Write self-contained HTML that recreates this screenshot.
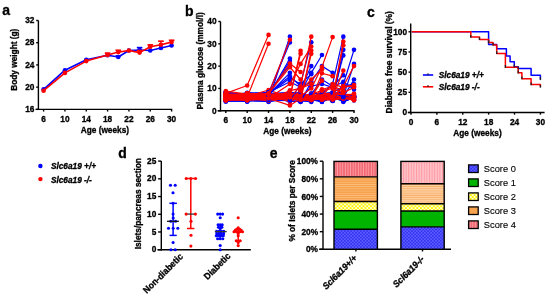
<!DOCTYPE html>
<html><head><meta charset="utf-8"><style>
html,body{margin:0;padding:0;background:#fff;width:550px;height:297px;overflow:hidden}
svg{display:block;font-family:"Liberation Sans", sans-serif;will-change:transform}
</style></head><body>
<svg width="550" height="297" viewBox="0 0 550 297">
<rect width="550" height="297" fill="#fff"/>
<text x="6.2" y="15.5" font-size="14" text-anchor="middle" font-weight="bold" font-style="normal" fill="#000" stroke="#000" stroke-width="0.3" transform="translate(6.2 15.5) rotate(0) scale(1 1.07) translate(-6.2 -15.5)">a</text>
<line x1="38.40" y1="20.50" x2="38.40" y2="110.05" stroke="#000" stroke-width="1.4" stroke-linecap="butt"/>
<line x1="36.20" y1="109.35" x2="38.40" y2="109.35" stroke="#000" stroke-width="1.4" stroke-linecap="butt"/>
<text x="34.4" y="111.94999999999999" font-size="8.3" text-anchor="end" font-weight="bold" font-style="normal" fill="#000" stroke="#000" stroke-width="0.3" transform="translate(34.4 111.94999999999999) rotate(0) scale(1 1.07) translate(-34.4 -111.94999999999999)">16</text>
<line x1="36.20" y1="87.14" x2="38.40" y2="87.14" stroke="#000" stroke-width="1.4" stroke-linecap="butt"/>
<text x="34.4" y="89.73749999999998" font-size="8.3" text-anchor="end" font-weight="bold" font-style="normal" fill="#000" stroke="#000" stroke-width="0.3" transform="translate(34.4 89.73749999999998) rotate(0) scale(1 1.07) translate(-34.4 -89.73749999999998)">20</text>
<line x1="36.20" y1="64.92" x2="38.40" y2="64.92" stroke="#000" stroke-width="1.4" stroke-linecap="butt"/>
<text x="34.4" y="67.52499999999999" font-size="8.3" text-anchor="end" font-weight="bold" font-style="normal" fill="#000" stroke="#000" stroke-width="0.3" transform="translate(34.4 67.52499999999999) rotate(0) scale(1 1.07) translate(-34.4 -67.52499999999999)">24</text>
<line x1="36.20" y1="42.71" x2="38.40" y2="42.71" stroke="#000" stroke-width="1.4" stroke-linecap="butt"/>
<text x="34.4" y="45.31250000000001" font-size="8.3" text-anchor="end" font-weight="bold" font-style="normal" fill="#000" stroke="#000" stroke-width="0.3" transform="translate(34.4 45.31250000000001) rotate(0) scale(1 1.07) translate(-34.4 -45.31250000000001)">28</text>
<line x1="36.20" y1="20.50" x2="38.40" y2="20.50" stroke="#000" stroke-width="1.4" stroke-linecap="butt"/>
<text x="34.4" y="23.1" font-size="8.3" text-anchor="end" font-weight="bold" font-style="normal" fill="#000" stroke="#000" stroke-width="0.3" transform="translate(34.4 23.1) rotate(0) scale(1 1.07) translate(-34.4 -23.1)">32</text>
<line x1="35.50" y1="109.35" x2="172.20" y2="109.35" stroke="#000" stroke-width="1.4" stroke-linecap="butt"/>
<line x1="43.60" y1="109.35" x2="43.60" y2="111.55" stroke="#000" stroke-width="1.4" stroke-linecap="butt"/>
<text x="43.6" y="122.1" font-size="8.3" text-anchor="middle" font-weight="bold" font-style="normal" fill="#000" stroke="#000" stroke-width="0.3" transform="translate(43.6 122.1) rotate(0) scale(1 1.07) translate(-43.6 -122.1)">6</text>
<line x1="64.93" y1="109.35" x2="64.93" y2="111.55" stroke="#000" stroke-width="1.4" stroke-linecap="butt"/>
<text x="64.93333333333334" y="122.1" font-size="8.3" text-anchor="middle" font-weight="bold" font-style="normal" fill="#000" stroke="#000" stroke-width="0.3" transform="translate(64.93333333333334 122.1) rotate(0) scale(1 1.07) translate(-64.93333333333334 -122.1)">10</text>
<line x1="86.27" y1="109.35" x2="86.27" y2="111.55" stroke="#000" stroke-width="1.4" stroke-linecap="butt"/>
<text x="86.26666666666667" y="122.1" font-size="8.3" text-anchor="middle" font-weight="bold" font-style="normal" fill="#000" stroke="#000" stroke-width="0.3" transform="translate(86.26666666666667 122.1) rotate(0) scale(1 1.07) translate(-86.26666666666667 -122.1)">14</text>
<line x1="107.60" y1="109.35" x2="107.60" y2="111.55" stroke="#000" stroke-width="1.4" stroke-linecap="butt"/>
<text x="107.6" y="122.1" font-size="8.3" text-anchor="middle" font-weight="bold" font-style="normal" fill="#000" stroke="#000" stroke-width="0.3" transform="translate(107.6 122.1) rotate(0) scale(1 1.07) translate(-107.6 -122.1)">18</text>
<line x1="128.93" y1="109.35" x2="128.93" y2="111.55" stroke="#000" stroke-width="1.4" stroke-linecap="butt"/>
<text x="128.93333333333334" y="122.1" font-size="8.3" text-anchor="middle" font-weight="bold" font-style="normal" fill="#000" stroke="#000" stroke-width="0.3" transform="translate(128.93333333333334 122.1) rotate(0) scale(1 1.07) translate(-128.93333333333334 -122.1)">22</text>
<line x1="150.27" y1="109.35" x2="150.27" y2="111.55" stroke="#000" stroke-width="1.4" stroke-linecap="butt"/>
<text x="150.26666666666668" y="122.1" font-size="8.3" text-anchor="middle" font-weight="bold" font-style="normal" fill="#000" stroke="#000" stroke-width="0.3" transform="translate(150.26666666666668 122.1) rotate(0) scale(1 1.07) translate(-150.26666666666668 -122.1)">26</text>
<line x1="171.60" y1="109.35" x2="171.60" y2="111.55" stroke="#000" stroke-width="1.4" stroke-linecap="butt"/>
<text x="171.6" y="122.1" font-size="8.3" text-anchor="middle" font-weight="bold" font-style="normal" fill="#000" stroke="#000" stroke-width="0.3" transform="translate(171.6 122.1) rotate(0) scale(1 1.07) translate(-171.6 -122.1)">30</text>
<text x="104.85" y="133.0" font-size="8.3" text-anchor="middle" font-weight="bold" font-style="normal" fill="#000" stroke="#000" stroke-width="0.3" transform="translate(104.85 133.0) rotate(0) scale(1 1.07) translate(-104.85 -133.0)">Age (weeks)</text>
<text x="17.2" y="59.7" font-size="8.3" text-anchor="middle" font-weight="bold" font-style="normal" fill="#000" stroke="#000" stroke-width="0.3" transform="translate(17.2 59.7) rotate(-90) scale(1 1.07) translate(-17.2 -59.7)">Body weight (g)</text>
<polyline points="43.60,89.30 64.93,70.20 86.27,59.70 107.60,55.20 118.27,57.00 128.93,50.50 139.60,50.00 150.27,50.50 160.93,48.00 171.60,45.50" fill="none" stroke="#0000ff" stroke-width="1.6" stroke-linejoin="round"/>
<circle cx="43.60" cy="89.30" r="2.3" fill="#0000ff"/>
<circle cx="64.93" cy="70.20" r="2.3" fill="#0000ff"/>
<circle cx="86.27" cy="59.70" r="2.3" fill="#0000ff"/>
<circle cx="107.60" cy="55.20" r="2.3" fill="#0000ff"/>
<line x1="118.27" y1="56.00" x2="118.27" y2="58.00" stroke="#0000ff" stroke-width="1.3" stroke-linecap="butt"/>
<line x1="115.47" y1="56.00" x2="121.07" y2="56.00" stroke="#0000ff" stroke-width="1.6" stroke-linecap="butt"/>
<circle cx="118.27" cy="57.00" r="2.3" fill="#0000ff"/>
<circle cx="128.93" cy="50.50" r="2.3" fill="#0000ff"/>
<line x1="139.60" y1="47.60" x2="139.60" y2="52.40" stroke="#0000ff" stroke-width="1.3" stroke-linecap="butt"/>
<line x1="136.80" y1="47.60" x2="142.40" y2="47.60" stroke="#0000ff" stroke-width="1.6" stroke-linecap="butt"/>
<circle cx="139.60" cy="50.00" r="2.3" fill="#0000ff"/>
<circle cx="150.27" cy="50.50" r="2.3" fill="#0000ff"/>
<circle cx="160.93" cy="48.00" r="2.3" fill="#0000ff"/>
<circle cx="171.60" cy="45.50" r="2.3" fill="#0000ff"/>
<polyline points="43.60,90.70 64.93,72.90 86.27,61.10 107.60,55.00 118.27,52.10 128.93,50.50 139.60,52.60 150.27,46.80 160.93,44.70 171.60,42.10" fill="none" stroke="#ff0000" stroke-width="1.6" stroke-linejoin="round"/>
<circle cx="43.60" cy="90.70" r="2.3" fill="#ff0000"/>
<circle cx="64.93" cy="72.90" r="2.3" fill="#ff0000"/>
<circle cx="86.27" cy="61.10" r="2.3" fill="#ff0000"/>
<line x1="107.60" y1="53.10" x2="107.60" y2="55.00" stroke="#ff0000" stroke-width="1.3" stroke-linecap="butt"/>
<line x1="104.80" y1="53.10" x2="110.40" y2="53.10" stroke="#ff0000" stroke-width="1.7" stroke-linecap="butt"/>
<circle cx="107.60" cy="55.00" r="2.3" fill="#ff0000"/>
<line x1="118.27" y1="50.30" x2="118.27" y2="52.10" stroke="#ff0000" stroke-width="1.3" stroke-linecap="butt"/>
<line x1="115.47" y1="50.30" x2="121.07" y2="50.30" stroke="#ff0000" stroke-width="1.7" stroke-linecap="butt"/>
<circle cx="118.27" cy="52.10" r="2.3" fill="#ff0000"/>
<circle cx="128.93" cy="50.50" r="2.3" fill="#ff0000"/>
<line x1="139.60" y1="50.60" x2="139.60" y2="52.60" stroke="#ff0000" stroke-width="1.3" stroke-linecap="butt"/>
<line x1="136.80" y1="50.60" x2="142.40" y2="50.60" stroke="#ff0000" stroke-width="1.7" stroke-linecap="butt"/>
<circle cx="139.60" cy="52.60" r="2.3" fill="#ff0000"/>
<line x1="150.27" y1="44.90" x2="150.27" y2="46.80" stroke="#ff0000" stroke-width="1.3" stroke-linecap="butt"/>
<line x1="147.47" y1="44.90" x2="153.07" y2="44.90" stroke="#ff0000" stroke-width="1.7" stroke-linecap="butt"/>
<circle cx="150.27" cy="46.80" r="2.3" fill="#ff0000"/>
<line x1="160.93" y1="41.20" x2="160.93" y2="44.70" stroke="#ff0000" stroke-width="1.3" stroke-linecap="butt"/>
<line x1="158.13" y1="41.20" x2="163.73" y2="41.20" stroke="#ff0000" stroke-width="1.7" stroke-linecap="butt"/>
<circle cx="160.93" cy="44.70" r="2.3" fill="#ff0000"/>
<line x1="171.60" y1="40.30" x2="171.60" y2="42.10" stroke="#ff0000" stroke-width="1.3" stroke-linecap="butt"/>
<line x1="168.80" y1="40.30" x2="174.40" y2="40.30" stroke="#ff0000" stroke-width="1.7" stroke-linecap="butt"/>
<circle cx="171.60" cy="42.10" r="2.3" fill="#ff0000"/>
<text x="189.3" y="15.6" font-size="14" text-anchor="middle" font-weight="bold" font-style="normal" fill="#000" stroke="#000" stroke-width="0.3" transform="translate(189.3 15.6) rotate(0) scale(1 1.07) translate(-189.3 -15.6)">b</text>
<line x1="220.50" y1="21.50" x2="220.50" y2="111.45" stroke="#000" stroke-width="1.4" stroke-linecap="butt"/>
<line x1="218.30" y1="110.75" x2="220.50" y2="110.75" stroke="#000" stroke-width="1.4" stroke-linecap="butt"/>
<text x="216.5" y="113.65" font-size="8.3" text-anchor="end" font-weight="bold" font-style="normal" fill="#000" stroke="#000" stroke-width="0.3" transform="translate(216.5 113.65) rotate(0) scale(1 1.07) translate(-216.5 -113.65)">0</text>
<line x1="218.30" y1="88.44" x2="220.50" y2="88.44" stroke="#000" stroke-width="1.4" stroke-linecap="butt"/>
<text x="216.5" y="91.3375" font-size="8.3" text-anchor="end" font-weight="bold" font-style="normal" fill="#000" stroke="#000" stroke-width="0.3" transform="translate(216.5 91.3375) rotate(0) scale(1 1.07) translate(-216.5 -91.3375)">10</text>
<line x1="218.30" y1="66.12" x2="220.50" y2="66.12" stroke="#000" stroke-width="1.4" stroke-linecap="butt"/>
<text x="216.5" y="69.025" font-size="8.3" text-anchor="end" font-weight="bold" font-style="normal" fill="#000" stroke="#000" stroke-width="0.3" transform="translate(216.5 69.025) rotate(0) scale(1 1.07) translate(-216.5 -69.025)">20</text>
<line x1="218.30" y1="43.81" x2="220.50" y2="43.81" stroke="#000" stroke-width="1.4" stroke-linecap="butt"/>
<text x="216.5" y="46.7125" font-size="8.3" text-anchor="end" font-weight="bold" font-style="normal" fill="#000" stroke="#000" stroke-width="0.3" transform="translate(216.5 46.7125) rotate(0) scale(1 1.07) translate(-216.5 -46.7125)">30</text>
<line x1="218.30" y1="21.50" x2="220.50" y2="21.50" stroke="#000" stroke-width="1.4" stroke-linecap="butt"/>
<text x="216.5" y="24.4" font-size="8.3" text-anchor="end" font-weight="bold" font-style="normal" fill="#000" stroke="#000" stroke-width="0.3" transform="translate(216.5 24.4) rotate(0) scale(1 1.07) translate(-216.5 -24.4)">40</text>
<line x1="217.60" y1="110.75" x2="354.60" y2="110.75" stroke="#000" stroke-width="1.4" stroke-linecap="butt"/>
<line x1="225.80" y1="110.75" x2="225.80" y2="112.95" stroke="#000" stroke-width="1.4" stroke-linecap="butt"/>
<text x="225.8" y="123.0" font-size="8.3" text-anchor="middle" font-weight="bold" font-style="normal" fill="#000" stroke="#000" stroke-width="0.3" transform="translate(225.8 123.0) rotate(0) scale(1 1.07) translate(-225.8 -123.0)">6</text>
<line x1="247.17" y1="110.75" x2="247.17" y2="112.95" stroke="#000" stroke-width="1.4" stroke-linecap="butt"/>
<text x="247.16666666666669" y="123.0" font-size="8.3" text-anchor="middle" font-weight="bold" font-style="normal" fill="#000" stroke="#000" stroke-width="0.3" transform="translate(247.16666666666669 123.0) rotate(0) scale(1 1.07) translate(-247.16666666666669 -123.0)">10</text>
<line x1="268.53" y1="110.75" x2="268.53" y2="112.95" stroke="#000" stroke-width="1.4" stroke-linecap="butt"/>
<text x="268.53333333333336" y="123.0" font-size="8.3" text-anchor="middle" font-weight="bold" font-style="normal" fill="#000" stroke="#000" stroke-width="0.3" transform="translate(268.53333333333336 123.0) rotate(0) scale(1 1.07) translate(-268.53333333333336 -123.0)">14</text>
<line x1="289.90" y1="110.75" x2="289.90" y2="112.95" stroke="#000" stroke-width="1.4" stroke-linecap="butt"/>
<text x="289.9" y="123.0" font-size="8.3" text-anchor="middle" font-weight="bold" font-style="normal" fill="#000" stroke="#000" stroke-width="0.3" transform="translate(289.9 123.0) rotate(0) scale(1 1.07) translate(-289.9 -123.0)">18</text>
<line x1="311.27" y1="110.75" x2="311.27" y2="112.95" stroke="#000" stroke-width="1.4" stroke-linecap="butt"/>
<text x="311.26666666666665" y="123.0" font-size="8.3" text-anchor="middle" font-weight="bold" font-style="normal" fill="#000" stroke="#000" stroke-width="0.3" transform="translate(311.26666666666665 123.0) rotate(0) scale(1 1.07) translate(-311.26666666666665 -123.0)">22</text>
<line x1="332.63" y1="110.75" x2="332.63" y2="112.95" stroke="#000" stroke-width="1.4" stroke-linecap="butt"/>
<text x="332.6333333333333" y="123.0" font-size="8.3" text-anchor="middle" font-weight="bold" font-style="normal" fill="#000" stroke="#000" stroke-width="0.3" transform="translate(332.6333333333333 123.0) rotate(0) scale(1 1.07) translate(-332.6333333333333 -123.0)">26</text>
<line x1="354.00" y1="110.75" x2="354.00" y2="112.95" stroke="#000" stroke-width="1.4" stroke-linecap="butt"/>
<text x="354.0" y="123.0" font-size="8.3" text-anchor="middle" font-weight="bold" font-style="normal" fill="#000" stroke="#000" stroke-width="0.3" transform="translate(354.0 123.0) rotate(0) scale(1 1.07) translate(-354.0 -123.0)">30</text>
<text x="287.4" y="134.2" font-size="8.3" text-anchor="middle" font-weight="bold" font-style="normal" fill="#000" stroke="#000" stroke-width="0.3" transform="translate(287.4 134.2) rotate(0) scale(1 1.07) translate(-287.4 -134.2)">Age (weeks)</text>
<text x="203.0" y="60.85" font-size="8.3" text-anchor="middle" font-weight="bold" font-style="normal" fill="#000" stroke="#000" stroke-width="0.3" transform="translate(203.0 60.85) rotate(-90) scale(1 1.07) translate(-203.0 -60.85)">Plasma glucose (mmol/l)</text>
<polyline points="225.80,96.47 247.17,92.68 268.53,93.57" fill="none" stroke="#0000ff" stroke-width="1.2" stroke-linejoin="round"/>
<circle cx="225.80" cy="96.47" r="2.3" fill="#0000ff"/>
<circle cx="247.17" cy="92.68" r="2.3" fill="#0000ff"/>
<circle cx="268.53" cy="93.57" r="2.3" fill="#0000ff"/>
<polyline points="225.80,93.57 247.17,97.14 268.53,95.58" fill="none" stroke="#0000ff" stroke-width="1.2" stroke-linejoin="round"/>
<circle cx="225.80" cy="93.57" r="2.3" fill="#0000ff"/>
<circle cx="247.17" cy="97.14" r="2.3" fill="#0000ff"/>
<circle cx="268.53" cy="95.58" r="2.3" fill="#0000ff"/>
<polyline points="225.80,92.90 247.17,94.24 268.53,94.46" fill="none" stroke="#0000ff" stroke-width="1.2" stroke-linejoin="round"/>
<circle cx="225.80" cy="92.90" r="2.3" fill="#0000ff"/>
<circle cx="247.17" cy="94.24" r="2.3" fill="#0000ff"/>
<circle cx="268.53" cy="94.46" r="2.3" fill="#0000ff"/>
<polyline points="225.80,97.36 247.17,94.69 268.53,96.47 289.90,98.70 300.58,96.92 311.27,96.47 321.95,94.24 332.63,100.93 343.32,96.47" fill="none" stroke="#0000ff" stroke-width="1.2" stroke-linejoin="round"/>
<circle cx="225.80" cy="97.36" r="2.3" fill="#0000ff"/>
<circle cx="247.17" cy="94.69" r="2.3" fill="#0000ff"/>
<circle cx="268.53" cy="96.47" r="2.3" fill="#0000ff"/>
<circle cx="289.90" cy="98.70" r="2.3" fill="#0000ff"/>
<circle cx="300.58" cy="96.92" r="2.3" fill="#0000ff"/>
<circle cx="311.27" cy="96.47" r="2.3" fill="#0000ff"/>
<circle cx="321.95" cy="94.24" r="2.3" fill="#0000ff"/>
<circle cx="332.63" cy="100.93" r="2.3" fill="#0000ff"/>
<circle cx="343.32" cy="96.47" r="2.3" fill="#0000ff"/>
<polyline points="225.80,97.14 247.17,100.26 268.53,94.02" fill="none" stroke="#0000ff" stroke-width="1.2" stroke-linejoin="round"/>
<circle cx="225.80" cy="97.14" r="2.3" fill="#0000ff"/>
<circle cx="247.17" cy="100.26" r="2.3" fill="#0000ff"/>
<circle cx="268.53" cy="94.02" r="2.3" fill="#0000ff"/>
<polyline points="225.80,100.04 247.17,95.80 268.53,92.90" fill="none" stroke="#0000ff" stroke-width="1.2" stroke-linejoin="round"/>
<circle cx="225.80" cy="100.04" r="2.3" fill="#0000ff"/>
<circle cx="247.17" cy="95.80" r="2.3" fill="#0000ff"/>
<circle cx="268.53" cy="92.90" r="2.3" fill="#0000ff"/>
<polyline points="225.80,99.59 247.17,99.37 268.53,94.24 289.90,96.92 300.58,96.47 311.27,94.46" fill="none" stroke="#0000ff" stroke-width="1.2" stroke-linejoin="round"/>
<circle cx="225.80" cy="99.59" r="2.3" fill="#0000ff"/>
<circle cx="247.17" cy="99.37" r="2.3" fill="#0000ff"/>
<circle cx="268.53" cy="94.24" r="2.3" fill="#0000ff"/>
<circle cx="289.90" cy="96.92" r="2.3" fill="#0000ff"/>
<circle cx="300.58" cy="96.47" r="2.3" fill="#0000ff"/>
<circle cx="311.27" cy="94.46" r="2.3" fill="#0000ff"/>
<polyline points="225.80,93.35 247.17,98.92 268.53,95.13 289.90,96.02 300.58,96.25 311.27,97.36 321.95,93.57 332.63,92.45 343.32,97.36 354.00,95.35" fill="none" stroke="#0000ff" stroke-width="1.2" stroke-linejoin="round"/>
<circle cx="225.80" cy="93.35" r="2.3" fill="#0000ff"/>
<circle cx="247.17" cy="98.92" r="2.3" fill="#0000ff"/>
<circle cx="268.53" cy="95.13" r="2.3" fill="#0000ff"/>
<circle cx="289.90" cy="96.02" r="2.3" fill="#0000ff"/>
<circle cx="300.58" cy="96.25" r="2.3" fill="#0000ff"/>
<circle cx="311.27" cy="97.36" r="2.3" fill="#0000ff"/>
<circle cx="321.95" cy="93.57" r="2.3" fill="#0000ff"/>
<circle cx="332.63" cy="92.45" r="2.3" fill="#0000ff"/>
<circle cx="343.32" cy="97.36" r="2.3" fill="#0000ff"/>
<circle cx="354.00" cy="95.35" r="2.3" fill="#0000ff"/>
<polyline points="225.80,100.71 247.17,100.93 268.53,97.59 289.90,101.38 300.58,89.55" fill="none" stroke="#0000ff" stroke-width="1.2" stroke-linejoin="round"/>
<circle cx="225.80" cy="100.71" r="2.3" fill="#0000ff"/>
<circle cx="247.17" cy="100.93" r="2.3" fill="#0000ff"/>
<circle cx="268.53" cy="97.59" r="2.3" fill="#0000ff"/>
<circle cx="289.90" cy="101.38" r="2.3" fill="#0000ff"/>
<circle cx="300.58" cy="89.55" r="2.3" fill="#0000ff"/>
<polyline points="225.80,95.35 247.17,98.48 268.53,96.47 289.90,100.71 300.58,101.83" fill="none" stroke="#0000ff" stroke-width="1.2" stroke-linejoin="round"/>
<circle cx="225.80" cy="95.35" r="2.3" fill="#0000ff"/>
<circle cx="247.17" cy="98.48" r="2.3" fill="#0000ff"/>
<circle cx="268.53" cy="96.47" r="2.3" fill="#0000ff"/>
<circle cx="289.90" cy="100.71" r="2.3" fill="#0000ff"/>
<circle cx="300.58" cy="101.83" r="2.3" fill="#0000ff"/>
<polyline points="225.80,92.23 247.17,101.60 268.53,93.35 289.90,99.15 300.58,100.71 311.27,100.93 321.95,98.92 332.63,93.79 343.32,100.26 354.00,96.25" fill="none" stroke="#0000ff" stroke-width="1.2" stroke-linejoin="round"/>
<circle cx="225.80" cy="92.23" r="2.3" fill="#0000ff"/>
<circle cx="247.17" cy="101.60" r="2.3" fill="#0000ff"/>
<circle cx="268.53" cy="93.35" r="2.3" fill="#0000ff"/>
<circle cx="289.90" cy="99.15" r="2.3" fill="#0000ff"/>
<circle cx="300.58" cy="100.71" r="2.3" fill="#0000ff"/>
<circle cx="311.27" cy="100.93" r="2.3" fill="#0000ff"/>
<circle cx="321.95" cy="98.92" r="2.3" fill="#0000ff"/>
<circle cx="332.63" cy="93.79" r="2.3" fill="#0000ff"/>
<circle cx="343.32" cy="100.26" r="2.3" fill="#0000ff"/>
<circle cx="354.00" cy="96.25" r="2.3" fill="#0000ff"/>
<polyline points="225.80,100.04 247.17,99.59 268.53,99.15 289.90,99.59 300.58,96.25 311.27,99.37 321.95,97.81 332.63,100.71" fill="none" stroke="#0000ff" stroke-width="1.2" stroke-linejoin="round"/>
<circle cx="225.80" cy="100.04" r="2.3" fill="#0000ff"/>
<circle cx="247.17" cy="99.59" r="2.3" fill="#0000ff"/>
<circle cx="268.53" cy="99.15" r="2.3" fill="#0000ff"/>
<circle cx="289.90" cy="99.59" r="2.3" fill="#0000ff"/>
<circle cx="300.58" cy="96.25" r="2.3" fill="#0000ff"/>
<circle cx="311.27" cy="99.37" r="2.3" fill="#0000ff"/>
<circle cx="321.95" cy="97.81" r="2.3" fill="#0000ff"/>
<circle cx="332.63" cy="100.71" r="2.3" fill="#0000ff"/>
<polyline points="225.80,95.58 247.17,98.25 268.53,96.47 289.90,101.38 300.58,101.38 311.27,100.04 321.95,95.13 332.63,97.81 343.32,98.92 354.00,96.25" fill="none" stroke="#0000ff" stroke-width="1.2" stroke-linejoin="round"/>
<circle cx="225.80" cy="95.58" r="2.3" fill="#0000ff"/>
<circle cx="247.17" cy="98.25" r="2.3" fill="#0000ff"/>
<circle cx="268.53" cy="96.47" r="2.3" fill="#0000ff"/>
<circle cx="289.90" cy="101.38" r="2.3" fill="#0000ff"/>
<circle cx="300.58" cy="101.38" r="2.3" fill="#0000ff"/>
<circle cx="311.27" cy="100.04" r="2.3" fill="#0000ff"/>
<circle cx="321.95" cy="95.13" r="2.3" fill="#0000ff"/>
<circle cx="332.63" cy="97.81" r="2.3" fill="#0000ff"/>
<circle cx="343.32" cy="98.92" r="2.3" fill="#0000ff"/>
<circle cx="354.00" cy="96.25" r="2.3" fill="#0000ff"/>
<polyline points="225.80,97.59 247.17,99.15 268.53,94.02 289.90,95.13 300.58,99.59 311.27,96.25 321.95,96.69 332.63,93.35 343.32,94.69 354.00,99.15" fill="none" stroke="#0000ff" stroke-width="1.2" stroke-linejoin="round"/>
<circle cx="225.80" cy="97.59" r="2.3" fill="#0000ff"/>
<circle cx="247.17" cy="99.15" r="2.3" fill="#0000ff"/>
<circle cx="268.53" cy="94.02" r="2.3" fill="#0000ff"/>
<circle cx="289.90" cy="95.13" r="2.3" fill="#0000ff"/>
<circle cx="300.58" cy="99.59" r="2.3" fill="#0000ff"/>
<circle cx="311.27" cy="96.25" r="2.3" fill="#0000ff"/>
<circle cx="321.95" cy="96.69" r="2.3" fill="#0000ff"/>
<circle cx="332.63" cy="93.35" r="2.3" fill="#0000ff"/>
<circle cx="343.32" cy="94.69" r="2.3" fill="#0000ff"/>
<circle cx="354.00" cy="99.15" r="2.3" fill="#0000ff"/>
<polyline points="225.80,92.90 247.17,94.02 268.53,100.49 289.90,93.79 300.58,92.23" fill="none" stroke="#0000ff" stroke-width="1.2" stroke-linejoin="round"/>
<circle cx="225.80" cy="92.90" r="2.3" fill="#0000ff"/>
<circle cx="247.17" cy="94.02" r="2.3" fill="#0000ff"/>
<circle cx="268.53" cy="100.49" r="2.3" fill="#0000ff"/>
<circle cx="289.90" cy="93.79" r="2.3" fill="#0000ff"/>
<circle cx="300.58" cy="92.23" r="2.3" fill="#0000ff"/>
<polyline points="225.80,92.68 247.17,95.13 268.53,93.35 289.90,92.68 300.58,99.37" fill="none" stroke="#0000ff" stroke-width="1.2" stroke-linejoin="round"/>
<circle cx="225.80" cy="92.68" r="2.3" fill="#0000ff"/>
<circle cx="247.17" cy="95.13" r="2.3" fill="#0000ff"/>
<circle cx="268.53" cy="93.35" r="2.3" fill="#0000ff"/>
<circle cx="289.90" cy="92.68" r="2.3" fill="#0000ff"/>
<circle cx="300.58" cy="99.37" r="2.3" fill="#0000ff"/>
<polyline points="225.80,98.70 247.17,94.02 268.53,92.23" fill="none" stroke="#0000ff" stroke-width="1.2" stroke-linejoin="round"/>
<circle cx="225.80" cy="98.70" r="2.3" fill="#0000ff"/>
<circle cx="247.17" cy="94.02" r="2.3" fill="#0000ff"/>
<circle cx="268.53" cy="92.23" r="2.3" fill="#0000ff"/>
<polyline points="225.80,100.26 247.17,99.82 268.53,99.59 289.90,97.14 300.58,96.02 311.27,99.37 321.95,102.05 332.63,97.81 343.32,98.25 354.00,96.47" fill="none" stroke="#0000ff" stroke-width="1.2" stroke-linejoin="round"/>
<circle cx="225.80" cy="100.26" r="2.3" fill="#0000ff"/>
<circle cx="247.17" cy="99.82" r="2.3" fill="#0000ff"/>
<circle cx="268.53" cy="99.59" r="2.3" fill="#0000ff"/>
<circle cx="289.90" cy="97.14" r="2.3" fill="#0000ff"/>
<circle cx="300.58" cy="96.02" r="2.3" fill="#0000ff"/>
<circle cx="311.27" cy="99.37" r="2.3" fill="#0000ff"/>
<circle cx="321.95" cy="102.05" r="2.3" fill="#0000ff"/>
<circle cx="332.63" cy="97.81" r="2.3" fill="#0000ff"/>
<circle cx="343.32" cy="98.25" r="2.3" fill="#0000ff"/>
<circle cx="354.00" cy="96.47" r="2.3" fill="#0000ff"/>
<polyline points="225.80,99.82 247.17,99.82 268.53,100.04" fill="none" stroke="#0000ff" stroke-width="1.2" stroke-linejoin="round"/>
<circle cx="225.80" cy="99.82" r="2.3" fill="#0000ff"/>
<circle cx="247.17" cy="99.82" r="2.3" fill="#0000ff"/>
<circle cx="268.53" cy="100.04" r="2.3" fill="#0000ff"/>
<polyline points="225.80,92.90 247.17,97.59 268.53,95.80 289.90,96.92 300.58,96.92 311.27,95.13 321.95,97.59 332.63,96.69 343.32,97.14" fill="none" stroke="#0000ff" stroke-width="1.2" stroke-linejoin="round"/>
<circle cx="225.80" cy="92.90" r="2.3" fill="#0000ff"/>
<circle cx="247.17" cy="97.59" r="2.3" fill="#0000ff"/>
<circle cx="268.53" cy="95.80" r="2.3" fill="#0000ff"/>
<circle cx="289.90" cy="96.92" r="2.3" fill="#0000ff"/>
<circle cx="300.58" cy="96.92" r="2.3" fill="#0000ff"/>
<circle cx="311.27" cy="95.13" r="2.3" fill="#0000ff"/>
<circle cx="321.95" cy="97.59" r="2.3" fill="#0000ff"/>
<circle cx="332.63" cy="96.69" r="2.3" fill="#0000ff"/>
<circle cx="343.32" cy="97.14" r="2.3" fill="#0000ff"/>
<polyline points="225.80,98.70 247.17,100.49 268.53,95.58 289.90,101.38 300.58,96.69 311.27,98.48 321.95,101.38 332.63,96.92 343.32,101.60 354.00,97.59" fill="none" stroke="#0000ff" stroke-width="1.2" stroke-linejoin="round"/>
<circle cx="225.80" cy="98.70" r="2.3" fill="#0000ff"/>
<circle cx="247.17" cy="100.49" r="2.3" fill="#0000ff"/>
<circle cx="268.53" cy="95.58" r="2.3" fill="#0000ff"/>
<circle cx="289.90" cy="101.38" r="2.3" fill="#0000ff"/>
<circle cx="300.58" cy="96.69" r="2.3" fill="#0000ff"/>
<circle cx="311.27" cy="98.48" r="2.3" fill="#0000ff"/>
<circle cx="321.95" cy="101.38" r="2.3" fill="#0000ff"/>
<circle cx="332.63" cy="96.92" r="2.3" fill="#0000ff"/>
<circle cx="343.32" cy="101.60" r="2.3" fill="#0000ff"/>
<circle cx="354.00" cy="97.59" r="2.3" fill="#0000ff"/>
<polyline points="225.80,96.69 247.17,96.69 268.53,101.83 289.90,97.59 300.58,100.26 311.27,102.05 321.95,94.02 332.63,100.26" fill="none" stroke="#0000ff" stroke-width="1.2" stroke-linejoin="round"/>
<circle cx="225.80" cy="96.69" r="2.3" fill="#0000ff"/>
<circle cx="247.17" cy="96.69" r="2.3" fill="#0000ff"/>
<circle cx="268.53" cy="101.83" r="2.3" fill="#0000ff"/>
<circle cx="289.90" cy="97.59" r="2.3" fill="#0000ff"/>
<circle cx="300.58" cy="100.26" r="2.3" fill="#0000ff"/>
<circle cx="311.27" cy="102.05" r="2.3" fill="#0000ff"/>
<circle cx="321.95" cy="94.02" r="2.3" fill="#0000ff"/>
<circle cx="332.63" cy="100.26" r="2.3" fill="#0000ff"/>
<polyline points="225.80,100.26 247.17,100.93 268.53,101.38 289.90,94.24 300.58,100.71 311.27,99.59 321.95,98.03 332.63,93.35 343.32,101.16 354.00,97.59" fill="none" stroke="#0000ff" stroke-width="1.2" stroke-linejoin="round"/>
<circle cx="225.80" cy="100.26" r="2.3" fill="#0000ff"/>
<circle cx="247.17" cy="100.93" r="2.3" fill="#0000ff"/>
<circle cx="268.53" cy="101.38" r="2.3" fill="#0000ff"/>
<circle cx="289.90" cy="94.24" r="2.3" fill="#0000ff"/>
<circle cx="300.58" cy="100.71" r="2.3" fill="#0000ff"/>
<circle cx="311.27" cy="99.59" r="2.3" fill="#0000ff"/>
<circle cx="321.95" cy="98.03" r="2.3" fill="#0000ff"/>
<circle cx="332.63" cy="93.35" r="2.3" fill="#0000ff"/>
<circle cx="343.32" cy="101.16" r="2.3" fill="#0000ff"/>
<circle cx="354.00" cy="97.59" r="2.3" fill="#0000ff"/>
<polyline points="225.80,99.59 247.17,101.38 268.53,95.35 289.90,94.24 300.58,93.12 311.27,100.49 321.95,94.91 332.63,92.90" fill="none" stroke="#0000ff" stroke-width="1.2" stroke-linejoin="round"/>
<circle cx="225.80" cy="99.59" r="2.3" fill="#0000ff"/>
<circle cx="247.17" cy="101.38" r="2.3" fill="#0000ff"/>
<circle cx="268.53" cy="95.35" r="2.3" fill="#0000ff"/>
<circle cx="289.90" cy="94.24" r="2.3" fill="#0000ff"/>
<circle cx="300.58" cy="93.12" r="2.3" fill="#0000ff"/>
<circle cx="311.27" cy="100.49" r="2.3" fill="#0000ff"/>
<circle cx="321.95" cy="94.91" r="2.3" fill="#0000ff"/>
<circle cx="332.63" cy="92.90" r="2.3" fill="#0000ff"/>
<polyline points="225.80,92.23 247.17,100.93 268.53,97.81 289.90,94.46 300.58,100.49 311.27,97.14 321.95,101.60 332.63,95.35 343.32,94.46 354.00,96.25" fill="none" stroke="#0000ff" stroke-width="1.2" stroke-linejoin="round"/>
<circle cx="225.80" cy="92.23" r="2.3" fill="#0000ff"/>
<circle cx="247.17" cy="100.93" r="2.3" fill="#0000ff"/>
<circle cx="268.53" cy="97.81" r="2.3" fill="#0000ff"/>
<circle cx="289.90" cy="94.46" r="2.3" fill="#0000ff"/>
<circle cx="300.58" cy="100.49" r="2.3" fill="#0000ff"/>
<circle cx="311.27" cy="97.14" r="2.3" fill="#0000ff"/>
<circle cx="321.95" cy="101.60" r="2.3" fill="#0000ff"/>
<circle cx="332.63" cy="95.35" r="2.3" fill="#0000ff"/>
<circle cx="343.32" cy="94.46" r="2.3" fill="#0000ff"/>
<circle cx="354.00" cy="96.25" r="2.3" fill="#0000ff"/>
<polyline points="225.80,94.02 247.17,101.16 268.53,95.35" fill="none" stroke="#0000ff" stroke-width="1.2" stroke-linejoin="round"/>
<circle cx="225.80" cy="94.02" r="2.3" fill="#0000ff"/>
<circle cx="247.17" cy="101.16" r="2.3" fill="#0000ff"/>
<circle cx="268.53" cy="95.35" r="2.3" fill="#0000ff"/>
<polyline points="225.80,101.38 247.17,101.16 268.53,97.81 289.90,93.79 300.58,100.71 311.27,99.82 321.95,95.80 332.63,92.45 343.32,96.25 354.00,98.03" fill="none" stroke="#0000ff" stroke-width="1.2" stroke-linejoin="round"/>
<circle cx="225.80" cy="101.38" r="2.3" fill="#0000ff"/>
<circle cx="247.17" cy="101.16" r="2.3" fill="#0000ff"/>
<circle cx="268.53" cy="97.81" r="2.3" fill="#0000ff"/>
<circle cx="289.90" cy="93.79" r="2.3" fill="#0000ff"/>
<circle cx="300.58" cy="100.71" r="2.3" fill="#0000ff"/>
<circle cx="311.27" cy="99.82" r="2.3" fill="#0000ff"/>
<circle cx="321.95" cy="95.80" r="2.3" fill="#0000ff"/>
<circle cx="332.63" cy="92.45" r="2.3" fill="#0000ff"/>
<circle cx="343.32" cy="96.25" r="2.3" fill="#0000ff"/>
<circle cx="354.00" cy="98.03" r="2.3" fill="#0000ff"/>
<polyline points="225.80,96.47 247.17,93.12 268.53,93.79 289.90,93.35 300.58,99.15 311.27,97.81 321.95,98.48 332.63,93.12 343.32,92.45 354.00,100.49" fill="none" stroke="#0000ff" stroke-width="1.2" stroke-linejoin="round"/>
<circle cx="225.80" cy="96.47" r="2.3" fill="#0000ff"/>
<circle cx="247.17" cy="93.12" r="2.3" fill="#0000ff"/>
<circle cx="268.53" cy="93.79" r="2.3" fill="#0000ff"/>
<circle cx="289.90" cy="93.35" r="2.3" fill="#0000ff"/>
<circle cx="300.58" cy="99.15" r="2.3" fill="#0000ff"/>
<circle cx="311.27" cy="97.81" r="2.3" fill="#0000ff"/>
<circle cx="321.95" cy="98.48" r="2.3" fill="#0000ff"/>
<circle cx="332.63" cy="93.12" r="2.3" fill="#0000ff"/>
<circle cx="343.32" cy="92.45" r="2.3" fill="#0000ff"/>
<circle cx="354.00" cy="100.49" r="2.3" fill="#0000ff"/>
<polyline points="225.80,92.23 247.17,95.58 268.53,96.69 289.90,92.68 300.58,97.59 311.27,93.35 321.95,93.79" fill="none" stroke="#0000ff" stroke-width="1.2" stroke-linejoin="round"/>
<circle cx="225.80" cy="92.23" r="2.3" fill="#0000ff"/>
<circle cx="247.17" cy="95.58" r="2.3" fill="#0000ff"/>
<circle cx="268.53" cy="96.69" r="2.3" fill="#0000ff"/>
<circle cx="289.90" cy="92.68" r="2.3" fill="#0000ff"/>
<circle cx="300.58" cy="97.59" r="2.3" fill="#0000ff"/>
<circle cx="311.27" cy="93.35" r="2.3" fill="#0000ff"/>
<circle cx="321.95" cy="93.79" r="2.3" fill="#0000ff"/>
<polyline points="225.80,101.38 247.17,94.91 268.53,95.58 289.90,92.01 300.58,93.79 311.27,99.15 321.95,98.25 332.63,95.35 343.32,101.83 354.00,97.36" fill="none" stroke="#0000ff" stroke-width="1.2" stroke-linejoin="round"/>
<circle cx="225.80" cy="101.38" r="2.3" fill="#0000ff"/>
<circle cx="247.17" cy="94.91" r="2.3" fill="#0000ff"/>
<circle cx="268.53" cy="95.58" r="2.3" fill="#0000ff"/>
<circle cx="289.90" cy="92.01" r="2.3" fill="#0000ff"/>
<circle cx="300.58" cy="93.79" r="2.3" fill="#0000ff"/>
<circle cx="311.27" cy="99.15" r="2.3" fill="#0000ff"/>
<circle cx="321.95" cy="98.25" r="2.3" fill="#0000ff"/>
<circle cx="332.63" cy="95.35" r="2.3" fill="#0000ff"/>
<circle cx="343.32" cy="101.83" r="2.3" fill="#0000ff"/>
<circle cx="354.00" cy="97.36" r="2.3" fill="#0000ff"/>
<polyline points="225.80,94.69 247.17,100.26 268.53,100.71 289.90,100.49" fill="none" stroke="#0000ff" stroke-width="1.2" stroke-linejoin="round"/>
<circle cx="225.80" cy="94.69" r="2.3" fill="#0000ff"/>
<circle cx="247.17" cy="100.26" r="2.3" fill="#0000ff"/>
<circle cx="268.53" cy="100.71" r="2.3" fill="#0000ff"/>
<circle cx="289.90" cy="100.49" r="2.3" fill="#0000ff"/>
<polyline points="225.80,98.03 247.17,98.03 268.53,92.45" fill="none" stroke="#0000ff" stroke-width="1.2" stroke-linejoin="round"/>
<circle cx="225.80" cy="98.03" r="2.3" fill="#0000ff"/>
<circle cx="247.17" cy="98.03" r="2.3" fill="#0000ff"/>
<circle cx="268.53" cy="92.45" r="2.3" fill="#0000ff"/>
<polyline points="225.80,92.90 247.17,98.48 268.53,97.36 289.90,96.25 300.58,92.90 311.27,97.81 321.95,92.90 332.63,96.92" fill="none" stroke="#0000ff" stroke-width="1.2" stroke-linejoin="round"/>
<circle cx="225.80" cy="92.90" r="2.3" fill="#0000ff"/>
<circle cx="247.17" cy="98.48" r="2.3" fill="#0000ff"/>
<circle cx="268.53" cy="97.36" r="2.3" fill="#0000ff"/>
<circle cx="289.90" cy="96.25" r="2.3" fill="#0000ff"/>
<circle cx="300.58" cy="92.90" r="2.3" fill="#0000ff"/>
<circle cx="311.27" cy="97.81" r="2.3" fill="#0000ff"/>
<circle cx="321.95" cy="92.90" r="2.3" fill="#0000ff"/>
<circle cx="332.63" cy="96.92" r="2.3" fill="#0000ff"/>
<polyline points="225.80,94.69 247.17,99.82 268.53,94.46 289.90,100.04 300.58,94.24 311.27,97.14" fill="none" stroke="#ff0000" stroke-width="1.2" stroke-linejoin="round"/>
<circle cx="225.80" cy="94.69" r="2.3" fill="#ff0000"/>
<circle cx="247.17" cy="99.82" r="2.3" fill="#ff0000"/>
<circle cx="268.53" cy="94.46" r="2.3" fill="#ff0000"/>
<circle cx="289.90" cy="100.04" r="2.3" fill="#ff0000"/>
<circle cx="300.58" cy="94.24" r="2.3" fill="#ff0000"/>
<circle cx="311.27" cy="97.14" r="2.3" fill="#ff0000"/>
<polyline points="225.80,93.57 247.17,98.92 268.53,93.79" fill="none" stroke="#ff0000" stroke-width="1.2" stroke-linejoin="round"/>
<circle cx="225.80" cy="93.57" r="2.3" fill="#ff0000"/>
<circle cx="247.17" cy="98.92" r="2.3" fill="#ff0000"/>
<circle cx="268.53" cy="93.79" r="2.3" fill="#ff0000"/>
<circle cx="225.80" cy="93.35" r="2.3" fill="#ff0000"/>
<polyline points="225.80,97.81 247.17,99.59 268.53,94.46 289.90,93.35 300.58,97.14 311.27,97.14 321.95,99.82 332.63,99.82 343.32,98.03 354.00,98.70" fill="none" stroke="#ff0000" stroke-width="1.2" stroke-linejoin="round"/>
<circle cx="225.80" cy="97.81" r="2.3" fill="#ff0000"/>
<circle cx="247.17" cy="99.59" r="2.3" fill="#ff0000"/>
<circle cx="268.53" cy="94.46" r="2.3" fill="#ff0000"/>
<circle cx="289.90" cy="93.35" r="2.3" fill="#ff0000"/>
<circle cx="300.58" cy="97.14" r="2.3" fill="#ff0000"/>
<circle cx="311.27" cy="97.14" r="2.3" fill="#ff0000"/>
<circle cx="321.95" cy="99.82" r="2.3" fill="#ff0000"/>
<circle cx="332.63" cy="99.82" r="2.3" fill="#ff0000"/>
<circle cx="343.32" cy="98.03" r="2.3" fill="#ff0000"/>
<circle cx="354.00" cy="98.70" r="2.3" fill="#ff0000"/>
<polyline points="225.80,98.70 247.17,100.26 268.53,94.91 289.90,98.48 300.58,99.59" fill="none" stroke="#ff0000" stroke-width="1.2" stroke-linejoin="round"/>
<circle cx="225.80" cy="98.70" r="2.3" fill="#ff0000"/>
<circle cx="247.17" cy="100.26" r="2.3" fill="#ff0000"/>
<circle cx="268.53" cy="94.91" r="2.3" fill="#ff0000"/>
<circle cx="289.90" cy="98.48" r="2.3" fill="#ff0000"/>
<circle cx="300.58" cy="99.59" r="2.3" fill="#ff0000"/>
<polyline points="225.80,95.80 247.17,99.37 268.53,94.24" fill="none" stroke="#ff0000" stroke-width="1.2" stroke-linejoin="round"/>
<circle cx="225.80" cy="95.80" r="2.3" fill="#ff0000"/>
<circle cx="247.17" cy="99.37" r="2.3" fill="#ff0000"/>
<circle cx="268.53" cy="94.24" r="2.3" fill="#ff0000"/>
<polyline points="225.80,94.69 247.17,93.35 268.53,94.46 289.90,94.69 300.58,94.69 311.27,95.13 321.95,98.92 332.63,96.69 343.32,98.03 354.00,100.26" fill="none" stroke="#ff0000" stroke-width="1.2" stroke-linejoin="round"/>
<circle cx="225.80" cy="94.69" r="2.3" fill="#ff0000"/>
<circle cx="247.17" cy="93.35" r="2.3" fill="#ff0000"/>
<circle cx="268.53" cy="94.46" r="2.3" fill="#ff0000"/>
<circle cx="289.90" cy="94.69" r="2.3" fill="#ff0000"/>
<circle cx="300.58" cy="94.69" r="2.3" fill="#ff0000"/>
<circle cx="311.27" cy="95.13" r="2.3" fill="#ff0000"/>
<circle cx="321.95" cy="98.92" r="2.3" fill="#ff0000"/>
<circle cx="332.63" cy="96.69" r="2.3" fill="#ff0000"/>
<circle cx="343.32" cy="98.03" r="2.3" fill="#ff0000"/>
<circle cx="354.00" cy="100.26" r="2.3" fill="#ff0000"/>
<polyline points="225.80,99.37 247.17,94.02 268.53,96.47 289.90,95.58 300.58,99.82 311.27,100.04" fill="none" stroke="#ff0000" stroke-width="1.2" stroke-linejoin="round"/>
<circle cx="225.80" cy="99.37" r="2.3" fill="#ff0000"/>
<circle cx="247.17" cy="94.02" r="2.3" fill="#ff0000"/>
<circle cx="268.53" cy="96.47" r="2.3" fill="#ff0000"/>
<circle cx="289.90" cy="95.58" r="2.3" fill="#ff0000"/>
<circle cx="300.58" cy="99.82" r="2.3" fill="#ff0000"/>
<circle cx="311.27" cy="100.04" r="2.3" fill="#ff0000"/>
<polyline points="225.80,98.48 247.17,96.25 268.53,90.00 289.90,97.36 300.58,98.48 311.27,96.25 321.95,99.59 332.63,97.36" fill="none" stroke="#ff0000" stroke-width="1.2" stroke-linejoin="round"/>
<circle cx="225.80" cy="98.48" r="2.3" fill="#ff0000"/>
<circle cx="247.17" cy="96.25" r="2.3" fill="#ff0000"/>
<circle cx="268.53" cy="90.00" r="2.3" fill="#ff0000"/>
<circle cx="289.90" cy="97.36" r="2.3" fill="#ff0000"/>
<circle cx="300.58" cy="98.48" r="2.3" fill="#ff0000"/>
<circle cx="311.27" cy="96.25" r="2.3" fill="#ff0000"/>
<circle cx="321.95" cy="99.59" r="2.3" fill="#ff0000"/>
<circle cx="332.63" cy="97.36" r="2.3" fill="#ff0000"/>
<polyline points="225.80,98.03 247.17,99.15 268.53,98.25" fill="none" stroke="#ff0000" stroke-width="1.2" stroke-linejoin="round"/>
<circle cx="225.80" cy="98.03" r="2.3" fill="#ff0000"/>
<circle cx="247.17" cy="99.15" r="2.3" fill="#ff0000"/>
<circle cx="268.53" cy="98.25" r="2.3" fill="#ff0000"/>
<polyline points="225.80,96.92 247.17,95.58 268.53,93.57 289.90,98.03 300.58,94.46 311.27,95.35 321.95,96.02" fill="none" stroke="#ff0000" stroke-width="1.2" stroke-linejoin="round"/>
<circle cx="225.80" cy="96.92" r="2.3" fill="#ff0000"/>
<circle cx="247.17" cy="95.58" r="2.3" fill="#ff0000"/>
<circle cx="268.53" cy="93.57" r="2.3" fill="#ff0000"/>
<circle cx="289.90" cy="98.03" r="2.3" fill="#ff0000"/>
<circle cx="300.58" cy="94.46" r="2.3" fill="#ff0000"/>
<circle cx="311.27" cy="95.35" r="2.3" fill="#ff0000"/>
<circle cx="321.95" cy="96.02" r="2.3" fill="#ff0000"/>
<polyline points="225.80,100.26 247.17,98.03 268.53,96.02 289.90,96.92" fill="none" stroke="#ff0000" stroke-width="1.2" stroke-linejoin="round"/>
<circle cx="225.80" cy="100.26" r="2.3" fill="#ff0000"/>
<circle cx="247.17" cy="98.03" r="2.3" fill="#ff0000"/>
<circle cx="268.53" cy="96.02" r="2.3" fill="#ff0000"/>
<circle cx="289.90" cy="96.92" r="2.3" fill="#ff0000"/>
<polyline points="225.80,91.11 247.17,94.02 268.53,96.25 289.90,101.38 300.58,97.36 311.27,94.02 321.95,90.67" fill="none" stroke="#ff0000" stroke-width="1.2" stroke-linejoin="round"/>
<circle cx="225.80" cy="91.11" r="2.3" fill="#ff0000"/>
<circle cx="247.17" cy="94.02" r="2.3" fill="#ff0000"/>
<circle cx="268.53" cy="96.25" r="2.3" fill="#ff0000"/>
<circle cx="289.90" cy="101.38" r="2.3" fill="#ff0000"/>
<circle cx="300.58" cy="97.36" r="2.3" fill="#ff0000"/>
<circle cx="311.27" cy="94.02" r="2.3" fill="#ff0000"/>
<circle cx="321.95" cy="90.67" r="2.3" fill="#ff0000"/>
<polyline points="225.80,99.59 247.17,100.04 268.53,95.13 289.90,98.70 300.58,99.37 311.27,99.82 321.95,89.55" fill="none" stroke="#ff0000" stroke-width="1.2" stroke-linejoin="round"/>
<circle cx="225.80" cy="99.59" r="2.3" fill="#ff0000"/>
<circle cx="247.17" cy="100.04" r="2.3" fill="#ff0000"/>
<circle cx="268.53" cy="95.13" r="2.3" fill="#ff0000"/>
<circle cx="289.90" cy="98.70" r="2.3" fill="#ff0000"/>
<circle cx="300.58" cy="99.37" r="2.3" fill="#ff0000"/>
<circle cx="311.27" cy="99.82" r="2.3" fill="#ff0000"/>
<circle cx="321.95" cy="89.55" r="2.3" fill="#ff0000"/>
<polyline points="225.80,97.59 247.17,96.92 268.53,93.35" fill="none" stroke="#ff0000" stroke-width="1.2" stroke-linejoin="round"/>
<circle cx="225.80" cy="97.59" r="2.3" fill="#ff0000"/>
<circle cx="247.17" cy="96.92" r="2.3" fill="#ff0000"/>
<circle cx="268.53" cy="93.35" r="2.3" fill="#ff0000"/>
<polyline points="225.80,95.58 247.17,97.36 268.53,100.04 289.90,93.79 300.58,96.02" fill="none" stroke="#ff0000" stroke-width="1.2" stroke-linejoin="round"/>
<circle cx="225.80" cy="95.58" r="2.3" fill="#ff0000"/>
<circle cx="247.17" cy="97.36" r="2.3" fill="#ff0000"/>
<circle cx="268.53" cy="100.04" r="2.3" fill="#ff0000"/>
<circle cx="289.90" cy="93.79" r="2.3" fill="#ff0000"/>
<circle cx="300.58" cy="96.02" r="2.3" fill="#ff0000"/>
<polyline points="225.80,99.15 247.17,98.03 268.53,100.26 289.90,98.70 300.58,100.49 311.27,95.35 321.95,96.47 332.63,99.15" fill="none" stroke="#ff0000" stroke-width="1.2" stroke-linejoin="round"/>
<circle cx="225.80" cy="99.15" r="2.3" fill="#ff0000"/>
<circle cx="247.17" cy="98.03" r="2.3" fill="#ff0000"/>
<circle cx="268.53" cy="100.26" r="2.3" fill="#ff0000"/>
<circle cx="289.90" cy="98.70" r="2.3" fill="#ff0000"/>
<circle cx="300.58" cy="100.49" r="2.3" fill="#ff0000"/>
<circle cx="311.27" cy="95.35" r="2.3" fill="#ff0000"/>
<circle cx="321.95" cy="96.47" r="2.3" fill="#ff0000"/>
<circle cx="332.63" cy="99.15" r="2.3" fill="#ff0000"/>
<polyline points="225.80,97.59 247.17,98.03 268.53,100.04 289.90,90.67" fill="none" stroke="#ff0000" stroke-width="1.2" stroke-linejoin="round"/>
<circle cx="225.80" cy="97.59" r="2.3" fill="#ff0000"/>
<circle cx="247.17" cy="98.03" r="2.3" fill="#ff0000"/>
<circle cx="268.53" cy="100.04" r="2.3" fill="#ff0000"/>
<circle cx="289.90" cy="90.67" r="2.3" fill="#ff0000"/>
<polyline points="225.80,97.14 247.17,93.79 268.53,99.82 289.90,94.69 300.58,97.36 311.27,96.92 321.95,94.46 332.63,97.59" fill="none" stroke="#ff0000" stroke-width="1.2" stroke-linejoin="round"/>
<circle cx="225.80" cy="97.14" r="2.3" fill="#ff0000"/>
<circle cx="247.17" cy="93.79" r="2.3" fill="#ff0000"/>
<circle cx="268.53" cy="99.82" r="2.3" fill="#ff0000"/>
<circle cx="289.90" cy="94.69" r="2.3" fill="#ff0000"/>
<circle cx="300.58" cy="97.36" r="2.3" fill="#ff0000"/>
<circle cx="311.27" cy="96.92" r="2.3" fill="#ff0000"/>
<circle cx="321.95" cy="94.46" r="2.3" fill="#ff0000"/>
<circle cx="332.63" cy="97.59" r="2.3" fill="#ff0000"/>
<polyline points="225.80,100.26 247.17,98.48 268.53,98.70 289.90,95.58 300.58,93.57 311.27,97.36 321.95,93.79 332.63,93.35 343.32,93.57 354.00,97.81" fill="none" stroke="#ff0000" stroke-width="1.2" stroke-linejoin="round"/>
<circle cx="225.80" cy="100.26" r="2.3" fill="#ff0000"/>
<circle cx="247.17" cy="98.48" r="2.3" fill="#ff0000"/>
<circle cx="268.53" cy="98.70" r="2.3" fill="#ff0000"/>
<circle cx="289.90" cy="95.58" r="2.3" fill="#ff0000"/>
<circle cx="300.58" cy="93.57" r="2.3" fill="#ff0000"/>
<circle cx="311.27" cy="97.36" r="2.3" fill="#ff0000"/>
<circle cx="321.95" cy="93.79" r="2.3" fill="#ff0000"/>
<circle cx="332.63" cy="93.35" r="2.3" fill="#ff0000"/>
<circle cx="343.32" cy="93.57" r="2.3" fill="#ff0000"/>
<circle cx="354.00" cy="97.81" r="2.3" fill="#ff0000"/>
<polyline points="225.80,100.04 247.17,93.35 268.53,94.91 289.90,93.57 300.58,99.82" fill="none" stroke="#ff0000" stroke-width="1.2" stroke-linejoin="round"/>
<circle cx="225.80" cy="100.04" r="2.3" fill="#ff0000"/>
<circle cx="247.17" cy="93.35" r="2.3" fill="#ff0000"/>
<circle cx="268.53" cy="94.91" r="2.3" fill="#ff0000"/>
<circle cx="289.90" cy="93.57" r="2.3" fill="#ff0000"/>
<circle cx="300.58" cy="99.82" r="2.3" fill="#ff0000"/>
<polyline points="225.80,97.36 247.17,94.02 268.53,94.69 289.90,98.70 300.58,90.67" fill="none" stroke="#ff0000" stroke-width="1.2" stroke-linejoin="round"/>
<circle cx="225.80" cy="97.36" r="2.3" fill="#ff0000"/>
<circle cx="247.17" cy="94.02" r="2.3" fill="#ff0000"/>
<circle cx="268.53" cy="94.69" r="2.3" fill="#ff0000"/>
<circle cx="289.90" cy="98.70" r="2.3" fill="#ff0000"/>
<circle cx="300.58" cy="90.67" r="2.3" fill="#ff0000"/>
<polyline points="225.80,96.25 247.17,97.36" fill="none" stroke="#ff0000" stroke-width="1.2" stroke-linejoin="round"/>
<circle cx="225.80" cy="96.25" r="2.3" fill="#ff0000"/>
<circle cx="247.17" cy="97.36" r="2.3" fill="#ff0000"/>
<polyline points="225.80,93.79 247.17,95.58 268.53,96.92 289.90,96.02 300.58,95.58 311.27,100.04 321.95,94.02 332.63,94.91 343.32,94.24 354.00,94.69" fill="none" stroke="#ff0000" stroke-width="1.2" stroke-linejoin="round"/>
<circle cx="225.80" cy="93.79" r="2.3" fill="#ff0000"/>
<circle cx="247.17" cy="95.58" r="2.3" fill="#ff0000"/>
<circle cx="268.53" cy="96.92" r="2.3" fill="#ff0000"/>
<circle cx="289.90" cy="96.02" r="2.3" fill="#ff0000"/>
<circle cx="300.58" cy="95.58" r="2.3" fill="#ff0000"/>
<circle cx="311.27" cy="100.04" r="2.3" fill="#ff0000"/>
<circle cx="321.95" cy="94.02" r="2.3" fill="#ff0000"/>
<circle cx="332.63" cy="94.91" r="2.3" fill="#ff0000"/>
<circle cx="343.32" cy="94.24" r="2.3" fill="#ff0000"/>
<circle cx="354.00" cy="94.69" r="2.3" fill="#ff0000"/>
<polyline points="225.80,99.37 247.17,100.04 268.53,99.15 289.90,98.25 300.58,98.25 311.27,95.13 321.95,98.48 332.63,96.92" fill="none" stroke="#ff0000" stroke-width="1.2" stroke-linejoin="round"/>
<circle cx="225.80" cy="99.37" r="2.3" fill="#ff0000"/>
<circle cx="247.17" cy="100.04" r="2.3" fill="#ff0000"/>
<circle cx="268.53" cy="99.15" r="2.3" fill="#ff0000"/>
<circle cx="289.90" cy="98.25" r="2.3" fill="#ff0000"/>
<circle cx="300.58" cy="98.25" r="2.3" fill="#ff0000"/>
<circle cx="311.27" cy="95.13" r="2.3" fill="#ff0000"/>
<circle cx="321.95" cy="98.48" r="2.3" fill="#ff0000"/>
<circle cx="332.63" cy="96.92" r="2.3" fill="#ff0000"/>
<polyline points="225.80,97.59 247.17,97.59 268.53,99.82 289.90,96.02 300.58,100.04 311.27,100.04 321.95,98.92 332.63,99.37 343.32,98.03 354.00,100.04" fill="none" stroke="#ff0000" stroke-width="1.2" stroke-linejoin="round"/>
<circle cx="225.80" cy="97.59" r="2.3" fill="#ff0000"/>
<circle cx="247.17" cy="97.59" r="2.3" fill="#ff0000"/>
<circle cx="268.53" cy="99.82" r="2.3" fill="#ff0000"/>
<circle cx="289.90" cy="96.02" r="2.3" fill="#ff0000"/>
<circle cx="300.58" cy="100.04" r="2.3" fill="#ff0000"/>
<circle cx="311.27" cy="100.04" r="2.3" fill="#ff0000"/>
<circle cx="321.95" cy="98.92" r="2.3" fill="#ff0000"/>
<circle cx="332.63" cy="99.37" r="2.3" fill="#ff0000"/>
<circle cx="343.32" cy="98.03" r="2.3" fill="#ff0000"/>
<circle cx="354.00" cy="100.04" r="2.3" fill="#ff0000"/>
<polyline points="225.80,95.35 247.17,100.26 268.53,96.47 289.90,97.36" fill="none" stroke="#ff0000" stroke-width="1.2" stroke-linejoin="round"/>
<circle cx="225.80" cy="95.35" r="2.3" fill="#ff0000"/>
<circle cx="247.17" cy="100.26" r="2.3" fill="#ff0000"/>
<circle cx="268.53" cy="96.47" r="2.3" fill="#ff0000"/>
<circle cx="289.90" cy="97.36" r="2.3" fill="#ff0000"/>
<polyline points="225.80,95.58 247.17,98.48 268.53,98.48 289.90,105.39 300.58,98.48 311.27,96.92 321.95,99.15 332.63,95.58 343.32,97.81 354.00,96.47" fill="none" stroke="#ff0000" stroke-width="1.2" stroke-linejoin="round"/>
<circle cx="225.80" cy="95.58" r="2.3" fill="#ff0000"/>
<circle cx="247.17" cy="98.48" r="2.3" fill="#ff0000"/>
<circle cx="268.53" cy="98.48" r="2.3" fill="#ff0000"/>
<circle cx="289.90" cy="105.39" r="2.3" fill="#ff0000"/>
<circle cx="300.58" cy="98.48" r="2.3" fill="#ff0000"/>
<circle cx="311.27" cy="96.92" r="2.3" fill="#ff0000"/>
<circle cx="321.95" cy="99.15" r="2.3" fill="#ff0000"/>
<circle cx="332.63" cy="95.58" r="2.3" fill="#ff0000"/>
<circle cx="343.32" cy="97.81" r="2.3" fill="#ff0000"/>
<circle cx="354.00" cy="96.47" r="2.3" fill="#ff0000"/>
<polyline points="225.80,94.46 247.17,99.37 268.53,100.26 289.90,93.79 300.58,96.69 311.27,99.37 321.95,96.69 332.63,100.26 343.32,96.69 354.00,93.57" fill="none" stroke="#ff0000" stroke-width="1.2" stroke-linejoin="round"/>
<circle cx="225.80" cy="94.46" r="2.3" fill="#ff0000"/>
<circle cx="247.17" cy="99.37" r="2.3" fill="#ff0000"/>
<circle cx="268.53" cy="100.26" r="2.3" fill="#ff0000"/>
<circle cx="289.90" cy="93.79" r="2.3" fill="#ff0000"/>
<circle cx="300.58" cy="96.69" r="2.3" fill="#ff0000"/>
<circle cx="311.27" cy="99.37" r="2.3" fill="#ff0000"/>
<circle cx="321.95" cy="96.69" r="2.3" fill="#ff0000"/>
<circle cx="332.63" cy="100.26" r="2.3" fill="#ff0000"/>
<circle cx="343.32" cy="96.69" r="2.3" fill="#ff0000"/>
<circle cx="354.00" cy="93.57" r="2.3" fill="#ff0000"/>
<polyline points="225.80,100.49 247.17,99.37 268.53,99.82 289.90,97.81 300.58,100.26 311.27,94.24 321.95,96.02 332.63,99.37 343.32,98.70 354.00,98.03" fill="none" stroke="#ff0000" stroke-width="1.2" stroke-linejoin="round"/>
<circle cx="225.80" cy="100.49" r="2.3" fill="#ff0000"/>
<circle cx="247.17" cy="99.37" r="2.3" fill="#ff0000"/>
<circle cx="268.53" cy="99.82" r="2.3" fill="#ff0000"/>
<circle cx="289.90" cy="97.81" r="2.3" fill="#ff0000"/>
<circle cx="300.58" cy="100.26" r="2.3" fill="#ff0000"/>
<circle cx="311.27" cy="94.24" r="2.3" fill="#ff0000"/>
<circle cx="321.95" cy="96.02" r="2.3" fill="#ff0000"/>
<circle cx="332.63" cy="99.37" r="2.3" fill="#ff0000"/>
<circle cx="343.32" cy="98.70" r="2.3" fill="#ff0000"/>
<circle cx="354.00" cy="98.03" r="2.3" fill="#ff0000"/>
<polyline points="225.80,98.03 247.17,96.47 268.53,93.79 289.90,98.48 300.58,99.59 311.27,96.69 321.95,98.70 332.63,99.59" fill="none" stroke="#ff0000" stroke-width="1.2" stroke-linejoin="round"/>
<circle cx="225.80" cy="98.03" r="2.3" fill="#ff0000"/>
<circle cx="247.17" cy="96.47" r="2.3" fill="#ff0000"/>
<circle cx="268.53" cy="93.79" r="2.3" fill="#ff0000"/>
<circle cx="289.90" cy="98.48" r="2.3" fill="#ff0000"/>
<circle cx="300.58" cy="99.59" r="2.3" fill="#ff0000"/>
<circle cx="311.27" cy="96.69" r="2.3" fill="#ff0000"/>
<circle cx="321.95" cy="98.70" r="2.3" fill="#ff0000"/>
<circle cx="332.63" cy="99.59" r="2.3" fill="#ff0000"/>
<polyline points="225.80,94.46 247.17,99.37 268.53,97.36 289.90,96.92" fill="none" stroke="#ff0000" stroke-width="1.2" stroke-linejoin="round"/>
<circle cx="225.80" cy="94.46" r="2.3" fill="#ff0000"/>
<circle cx="247.17" cy="99.37" r="2.3" fill="#ff0000"/>
<circle cx="268.53" cy="97.36" r="2.3" fill="#ff0000"/>
<circle cx="289.90" cy="96.92" r="2.3" fill="#ff0000"/>
<polyline points="225.80,94.24 247.17,95.58 268.53,98.70 289.90,97.81 300.58,99.37 311.27,94.91 321.95,96.69 332.63,94.91 343.32,98.03 354.00,98.92" fill="none" stroke="#ff0000" stroke-width="1.2" stroke-linejoin="round"/>
<circle cx="225.80" cy="94.24" r="2.3" fill="#ff0000"/>
<circle cx="247.17" cy="95.58" r="2.3" fill="#ff0000"/>
<circle cx="268.53" cy="98.70" r="2.3" fill="#ff0000"/>
<circle cx="289.90" cy="97.81" r="2.3" fill="#ff0000"/>
<circle cx="300.58" cy="99.37" r="2.3" fill="#ff0000"/>
<circle cx="311.27" cy="94.91" r="2.3" fill="#ff0000"/>
<circle cx="321.95" cy="96.69" r="2.3" fill="#ff0000"/>
<circle cx="332.63" cy="94.91" r="2.3" fill="#ff0000"/>
<circle cx="343.32" cy="98.03" r="2.3" fill="#ff0000"/>
<circle cx="354.00" cy="98.92" r="2.3" fill="#ff0000"/>
<polyline points="300.58,92.23 311.27,72.82 321.95,54.97" fill="none" stroke="#0000ff" stroke-width="1.2" stroke-linejoin="round"/>
<circle cx="300.58" cy="92.23" r="2.3" fill="#0000ff"/>
<circle cx="311.27" cy="72.82" r="2.3" fill="#0000ff"/>
<circle cx="321.95" cy="54.97" r="2.3" fill="#0000ff"/>
<polyline points="332.63,96.92 343.32,55.41" fill="none" stroke="#0000ff" stroke-width="1.2" stroke-linejoin="round"/>
<circle cx="332.63" cy="96.92" r="2.3" fill="#0000ff"/>
<circle cx="343.32" cy="55.41" r="2.3" fill="#0000ff"/>
<polyline points="268.53,95.35 289.90,60.99" fill="none" stroke="#0000ff" stroke-width="1.2" stroke-linejoin="round"/>
<circle cx="268.53" cy="95.35" r="2.3" fill="#0000ff"/>
<circle cx="289.90" cy="60.99" r="2.3" fill="#0000ff"/>
<polyline points="332.63,100.71 343.32,49.84" fill="none" stroke="#0000ff" stroke-width="1.2" stroke-linejoin="round"/>
<circle cx="332.63" cy="100.71" r="2.3" fill="#0000ff"/>
<circle cx="343.32" cy="49.84" r="2.3" fill="#0000ff"/>
<polyline points="268.53,94.46 289.90,72.82" fill="none" stroke="#0000ff" stroke-width="1.2" stroke-linejoin="round"/>
<circle cx="268.53" cy="94.46" r="2.3" fill="#0000ff"/>
<circle cx="289.90" cy="72.82" r="2.3" fill="#0000ff"/>
<polyline points="289.90,100.49 300.58,83.97 311.27,42.25" fill="none" stroke="#0000ff" stroke-width="1.2" stroke-linejoin="round"/>
<circle cx="289.90" cy="100.49" r="2.3" fill="#0000ff"/>
<circle cx="300.58" cy="83.97" r="2.3" fill="#0000ff"/>
<circle cx="311.27" cy="42.25" r="2.3" fill="#0000ff"/>
<polyline points="321.95,93.79 332.63,83.97 343.32,36.67" fill="none" stroke="#0000ff" stroke-width="1.2" stroke-linejoin="round"/>
<circle cx="321.95" cy="93.79" r="2.3" fill="#0000ff"/>
<circle cx="332.63" cy="83.97" r="2.3" fill="#0000ff"/>
<circle cx="343.32" cy="36.67" r="2.3" fill="#0000ff"/>
<polyline points="332.63,100.26 343.32,84.20 354.00,49.84" fill="none" stroke="#0000ff" stroke-width="1.2" stroke-linejoin="round"/>
<circle cx="332.63" cy="100.26" r="2.3" fill="#0000ff"/>
<circle cx="343.32" cy="84.20" r="2.3" fill="#0000ff"/>
<circle cx="354.00" cy="49.84" r="2.3" fill="#0000ff"/>
<polyline points="343.32,97.14 354.00,79.51" fill="none" stroke="#0000ff" stroke-width="1.2" stroke-linejoin="round"/>
<circle cx="343.32" cy="97.14" r="2.3" fill="#0000ff"/>
<circle cx="354.00" cy="79.51" r="2.3" fill="#0000ff"/>
<polyline points="268.53,92.23 289.90,65.01" fill="none" stroke="#0000ff" stroke-width="1.2" stroke-linejoin="round"/>
<circle cx="268.53" cy="92.23" r="2.3" fill="#0000ff"/>
<circle cx="289.90" cy="65.01" r="2.3" fill="#0000ff"/>
<polyline points="268.53,92.90 289.90,42.47" fill="none" stroke="#0000ff" stroke-width="1.2" stroke-linejoin="round"/>
<circle cx="268.53" cy="92.90" r="2.3" fill="#0000ff"/>
<circle cx="289.90" cy="42.47" r="2.3" fill="#0000ff"/>
<polyline points="268.53,94.02 289.90,78.17 300.58,83.97 311.27,74.16" fill="none" stroke="#0000ff" stroke-width="1.2" stroke-linejoin="round"/>
<circle cx="268.53" cy="94.02" r="2.3" fill="#0000ff"/>
<circle cx="289.90" cy="78.17" r="2.3" fill="#0000ff"/>
<circle cx="300.58" cy="83.97" r="2.3" fill="#0000ff"/>
<circle cx="311.27" cy="74.16" r="2.3" fill="#0000ff"/>
<polyline points="300.58,101.83 311.27,81.74 321.95,66.12 332.63,72.82" fill="none" stroke="#0000ff" stroke-width="1.2" stroke-linejoin="round"/>
<circle cx="300.58" cy="101.83" r="2.3" fill="#0000ff"/>
<circle cx="311.27" cy="81.74" r="2.3" fill="#0000ff"/>
<circle cx="321.95" cy="66.12" r="2.3" fill="#0000ff"/>
<circle cx="332.63" cy="72.82" r="2.3" fill="#0000ff"/>
<polyline points="300.58,89.55 311.27,66.12" fill="none" stroke="#0000ff" stroke-width="1.2" stroke-linejoin="round"/>
<circle cx="300.58" cy="89.55" r="2.3" fill="#0000ff"/>
<circle cx="311.27" cy="66.12" r="2.3" fill="#0000ff"/>
<polyline points="343.32,96.47 354.00,63.89" fill="none" stroke="#0000ff" stroke-width="1.2" stroke-linejoin="round"/>
<circle cx="343.32" cy="96.47" r="2.3" fill="#0000ff"/>
<circle cx="354.00" cy="63.89" r="2.3" fill="#0000ff"/>
<polyline points="268.53,93.57 289.90,76.17 300.58,86.21 311.27,82.86" fill="none" stroke="#0000ff" stroke-width="1.2" stroke-linejoin="round"/>
<circle cx="268.53" cy="93.57" r="2.3" fill="#0000ff"/>
<circle cx="289.90" cy="76.17" r="2.3" fill="#0000ff"/>
<circle cx="300.58" cy="86.21" r="2.3" fill="#0000ff"/>
<circle cx="311.27" cy="82.86" r="2.3" fill="#0000ff"/>
<polyline points="268.53,95.58 289.90,58.54" fill="none" stroke="#0000ff" stroke-width="1.2" stroke-linejoin="round"/>
<circle cx="268.53" cy="95.58" r="2.3" fill="#0000ff"/>
<circle cx="289.90" cy="58.54" r="2.3" fill="#0000ff"/>
<polyline points="268.53,92.45 289.90,81.74 300.58,87.32" fill="none" stroke="#0000ff" stroke-width="1.2" stroke-linejoin="round"/>
<circle cx="268.53" cy="92.45" r="2.3" fill="#0000ff"/>
<circle cx="289.90" cy="81.74" r="2.3" fill="#0000ff"/>
<circle cx="300.58" cy="87.32" r="2.3" fill="#0000ff"/>
<polyline points="268.53,100.04 289.90,36.67" fill="none" stroke="#0000ff" stroke-width="1.2" stroke-linejoin="round"/>
<circle cx="268.53" cy="100.04" r="2.3" fill="#0000ff"/>
<circle cx="289.90" cy="36.67" r="2.3" fill="#0000ff"/>
<polyline points="300.58,99.37 311.27,86.21 321.95,83.97 332.63,87.32 343.32,81.74 354.00,89.55" fill="none" stroke="#0000ff" stroke-width="1.2" stroke-linejoin="round"/>
<circle cx="300.58" cy="99.37" r="2.3" fill="#0000ff"/>
<circle cx="311.27" cy="86.21" r="2.3" fill="#0000ff"/>
<circle cx="321.95" cy="83.97" r="2.3" fill="#0000ff"/>
<circle cx="332.63" cy="87.32" r="2.3" fill="#0000ff"/>
<circle cx="343.32" cy="81.74" r="2.3" fill="#0000ff"/>
<circle cx="354.00" cy="89.55" r="2.3" fill="#0000ff"/>
<polyline points="332.63,92.90 343.32,86.21 354.00,83.97" fill="none" stroke="#0000ff" stroke-width="1.2" stroke-linejoin="round"/>
<circle cx="332.63" cy="92.90" r="2.3" fill="#0000ff"/>
<circle cx="343.32" cy="86.21" r="2.3" fill="#0000ff"/>
<circle cx="354.00" cy="83.97" r="2.3" fill="#0000ff"/>
<polyline points="311.27,94.46 321.95,79.51 332.63,86.21 343.32,75.27" fill="none" stroke="#0000ff" stroke-width="1.2" stroke-linejoin="round"/>
<circle cx="311.27" cy="94.46" r="2.3" fill="#0000ff"/>
<circle cx="321.95" cy="79.51" r="2.3" fill="#0000ff"/>
<circle cx="332.63" cy="86.21" r="2.3" fill="#0000ff"/>
<circle cx="343.32" cy="75.27" r="2.3" fill="#0000ff"/>
<polyline points="300.58,99.82 311.27,50.51" fill="none" stroke="#ff0000" stroke-width="1.2" stroke-linejoin="round"/>
<circle cx="300.58" cy="99.82" r="2.3" fill="#ff0000"/>
<circle cx="311.27" cy="50.51" r="2.3" fill="#ff0000"/>
<polyline points="300.58,90.67 311.27,79.51 321.95,69.25" fill="none" stroke="#ff0000" stroke-width="1.2" stroke-linejoin="round"/>
<circle cx="300.58" cy="90.67" r="2.3" fill="#ff0000"/>
<circle cx="311.27" cy="79.51" r="2.3" fill="#ff0000"/>
<circle cx="321.95" cy="69.25" r="2.3" fill="#ff0000"/>
<polyline points="332.63,99.15 343.32,86.21 354.00,66.12" fill="none" stroke="#ff0000" stroke-width="1.2" stroke-linejoin="round"/>
<circle cx="332.63" cy="99.15" r="2.3" fill="#ff0000"/>
<circle cx="343.32" cy="86.21" r="2.3" fill="#ff0000"/>
<circle cx="354.00" cy="66.12" r="2.3" fill="#ff0000"/>
<polyline points="268.53,93.79 289.90,63.45 300.58,71.93" fill="none" stroke="#ff0000" stroke-width="1.2" stroke-linejoin="round"/>
<circle cx="268.53" cy="93.79" r="2.3" fill="#ff0000"/>
<circle cx="289.90" cy="63.45" r="2.3" fill="#ff0000"/>
<circle cx="300.58" cy="71.93" r="2.3" fill="#ff0000"/>
<polyline points="321.95,89.55 332.63,86.21 343.32,90.67" fill="none" stroke="#ff0000" stroke-width="1.2" stroke-linejoin="round"/>
<circle cx="321.95" cy="89.55" r="2.3" fill="#ff0000"/>
<circle cx="332.63" cy="86.21" r="2.3" fill="#ff0000"/>
<circle cx="343.32" cy="90.67" r="2.3" fill="#ff0000"/>
<polyline points="268.53,93.35 289.90,67.24 300.58,79.51" fill="none" stroke="#ff0000" stroke-width="1.2" stroke-linejoin="round"/>
<circle cx="268.53" cy="93.35" r="2.3" fill="#ff0000"/>
<circle cx="289.90" cy="67.24" r="2.3" fill="#ff0000"/>
<circle cx="300.58" cy="79.51" r="2.3" fill="#ff0000"/>
<polyline points="268.53,98.25 289.90,83.97 300.58,63.89 311.27,46.49" fill="none" stroke="#ff0000" stroke-width="1.2" stroke-linejoin="round"/>
<circle cx="268.53" cy="98.25" r="2.3" fill="#ff0000"/>
<circle cx="289.90" cy="83.97" r="2.3" fill="#ff0000"/>
<circle cx="300.58" cy="63.89" r="2.3" fill="#ff0000"/>
<circle cx="311.27" cy="46.49" r="2.3" fill="#ff0000"/>
<polyline points="289.90,96.92 300.58,53.63" fill="none" stroke="#ff0000" stroke-width="1.2" stroke-linejoin="round"/>
<circle cx="289.90" cy="96.92" r="2.3" fill="#ff0000"/>
<circle cx="300.58" cy="53.63" r="2.3" fill="#ff0000"/>
<polyline points="289.90,97.36 300.58,86.21 311.27,36.67" fill="none" stroke="#ff0000" stroke-width="1.2" stroke-linejoin="round"/>
<circle cx="289.90" cy="97.36" r="2.3" fill="#ff0000"/>
<circle cx="300.58" cy="86.21" r="2.3" fill="#ff0000"/>
<circle cx="311.27" cy="36.67" r="2.3" fill="#ff0000"/>
<polyline points="289.90,96.92 300.58,50.73" fill="none" stroke="#ff0000" stroke-width="1.2" stroke-linejoin="round"/>
<circle cx="289.90" cy="96.92" r="2.3" fill="#ff0000"/>
<circle cx="300.58" cy="50.73" r="2.3" fill="#ff0000"/>
<polyline points="321.95,90.67 332.63,88.44 343.32,92.90 354.00,87.32" fill="none" stroke="#ff0000" stroke-width="1.2" stroke-linejoin="round"/>
<circle cx="321.95" cy="90.67" r="2.3" fill="#ff0000"/>
<circle cx="332.63" cy="88.44" r="2.3" fill="#ff0000"/>
<circle cx="343.32" cy="92.90" r="2.3" fill="#ff0000"/>
<circle cx="354.00" cy="87.32" r="2.3" fill="#ff0000"/>
<polyline points="289.90,90.67 300.58,88.44 311.27,83.97" fill="none" stroke="#ff0000" stroke-width="1.2" stroke-linejoin="round"/>
<circle cx="289.90" cy="90.67" r="2.3" fill="#ff0000"/>
<circle cx="300.58" cy="88.44" r="2.3" fill="#ff0000"/>
<circle cx="311.27" cy="83.97" r="2.3" fill="#ff0000"/>
<polyline points="247.17,97.36 268.53,43.81" fill="none" stroke="#ff0000" stroke-width="1.2" stroke-linejoin="round"/>
<circle cx="247.17" cy="97.36" r="2.3" fill="#ff0000"/>
<circle cx="268.53" cy="43.81" r="2.3" fill="#ff0000"/>
<polyline points="300.58,99.59 311.27,53.85" fill="none" stroke="#ff0000" stroke-width="1.2" stroke-linejoin="round"/>
<circle cx="300.58" cy="99.59" r="2.3" fill="#ff0000"/>
<circle cx="311.27" cy="53.85" r="2.3" fill="#ff0000"/>
<polyline points="268.53,94.24 289.90,39.80" fill="none" stroke="#ff0000" stroke-width="1.2" stroke-linejoin="round"/>
<circle cx="268.53" cy="94.24" r="2.3" fill="#ff0000"/>
<circle cx="289.90" cy="39.80" r="2.3" fill="#ff0000"/>
<polyline points="300.58,96.02 311.27,88.44 321.95,67.02 332.63,37.12" fill="none" stroke="#ff0000" stroke-width="1.2" stroke-linejoin="round"/>
<circle cx="300.58" cy="96.02" r="2.3" fill="#ff0000"/>
<circle cx="311.27" cy="88.44" r="2.3" fill="#ff0000"/>
<circle cx="321.95" cy="67.02" r="2.3" fill="#ff0000"/>
<circle cx="332.63" cy="37.12" r="2.3" fill="#ff0000"/>
<polyline points="332.63,96.92 343.32,45.37" fill="none" stroke="#ff0000" stroke-width="1.2" stroke-linejoin="round"/>
<circle cx="332.63" cy="96.92" r="2.3" fill="#ff0000"/>
<circle cx="343.32" cy="45.37" r="2.3" fill="#ff0000"/>
<polyline points="332.63,97.59 343.32,70.59" fill="none" stroke="#ff0000" stroke-width="1.2" stroke-linejoin="round"/>
<circle cx="332.63" cy="97.59" r="2.3" fill="#ff0000"/>
<circle cx="343.32" cy="70.59" r="2.3" fill="#ff0000"/>
<polyline points="321.95,96.02 332.63,83.97 343.32,87.32 354.00,85.09" fill="none" stroke="#ff0000" stroke-width="1.2" stroke-linejoin="round"/>
<circle cx="321.95" cy="96.02" r="2.3" fill="#ff0000"/>
<circle cx="332.63" cy="83.97" r="2.3" fill="#ff0000"/>
<circle cx="343.32" cy="87.32" r="2.3" fill="#ff0000"/>
<circle cx="354.00" cy="85.09" r="2.3" fill="#ff0000"/>
<polyline points="332.63,99.59 343.32,41.58" fill="none" stroke="#ff0000" stroke-width="1.2" stroke-linejoin="round"/>
<circle cx="332.63" cy="99.59" r="2.3" fill="#ff0000"/>
<circle cx="343.32" cy="41.58" r="2.3" fill="#ff0000"/>
<polyline points="311.27,97.14 321.95,80.63" fill="none" stroke="#ff0000" stroke-width="1.2" stroke-linejoin="round"/>
<circle cx="311.27" cy="97.14" r="2.3" fill="#ff0000"/>
<circle cx="321.95" cy="80.63" r="2.3" fill="#ff0000"/>
<polyline points="332.63,97.36 343.32,86.21 354.00,86.21" fill="none" stroke="#ff0000" stroke-width="1.2" stroke-linejoin="round"/>
<circle cx="332.63" cy="97.36" r="2.3" fill="#ff0000"/>
<circle cx="343.32" cy="86.21" r="2.3" fill="#ff0000"/>
<circle cx="354.00" cy="86.21" r="2.3" fill="#ff0000"/>
<polyline points="311.27,100.04 321.95,73.27 332.63,76.17" fill="none" stroke="#ff0000" stroke-width="1.2" stroke-linejoin="round"/>
<circle cx="311.27" cy="100.04" r="2.3" fill="#ff0000"/>
<circle cx="321.95" cy="73.27" r="2.3" fill="#ff0000"/>
<circle cx="332.63" cy="76.17" r="2.3" fill="#ff0000"/>
<polyline points="225.80,93.35 247.17,85.54 268.53,34.89" fill="none" stroke="#ff0000" stroke-width="1.2" stroke-linejoin="round"/>
<circle cx="225.80" cy="93.35" r="2.3" fill="#ff0000"/>
<circle cx="247.17" cy="85.54" r="2.3" fill="#ff0000"/>
<circle cx="268.53" cy="34.89" r="2.3" fill="#ff0000"/>
<text x="370.9" y="16.8" font-size="14" text-anchor="middle" font-weight="bold" font-style="normal" fill="#000" stroke="#000" stroke-width="0.3" transform="translate(370.9 16.8) rotate(0) scale(1 1.07) translate(-370.9 -16.8)">c</text>
<line x1="410.70" y1="23.60" x2="410.70" y2="113.15" stroke="#000" stroke-width="1.4" stroke-linecap="butt"/>
<line x1="408.50" y1="112.45" x2="410.70" y2="112.45" stroke="#000" stroke-width="1.4" stroke-linecap="butt"/>
<text x="407.0" y="115.45" font-size="8.3" text-anchor="end" font-weight="bold" font-style="normal" fill="#000" stroke="#000" stroke-width="0.3" transform="translate(407.0 115.45) rotate(0) scale(1 1.07) translate(-407.0 -115.45)">0</text>
<line x1="408.50" y1="92.29" x2="410.70" y2="92.29" stroke="#000" stroke-width="1.4" stroke-linecap="butt"/>
<text x="407.0" y="95.2875" font-size="8.3" text-anchor="end" font-weight="bold" font-style="normal" fill="#000" stroke="#000" stroke-width="0.3" transform="translate(407.0 95.2875) rotate(0) scale(1 1.07) translate(-407.0 -95.2875)">25</text>
<line x1="408.50" y1="72.12" x2="410.70" y2="72.12" stroke="#000" stroke-width="1.4" stroke-linecap="butt"/>
<text x="407.0" y="75.125" font-size="8.3" text-anchor="end" font-weight="bold" font-style="normal" fill="#000" stroke="#000" stroke-width="0.3" transform="translate(407.0 75.125) rotate(0) scale(1 1.07) translate(-407.0 -75.125)">50</text>
<line x1="408.50" y1="51.96" x2="410.70" y2="51.96" stroke="#000" stroke-width="1.4" stroke-linecap="butt"/>
<text x="407.0" y="54.962500000000006" font-size="8.3" text-anchor="end" font-weight="bold" font-style="normal" fill="#000" stroke="#000" stroke-width="0.3" transform="translate(407.0 54.962500000000006) rotate(0) scale(1 1.07) translate(-407.0 -54.962500000000006)">75</text>
<line x1="408.50" y1="31.80" x2="410.70" y2="31.80" stroke="#000" stroke-width="1.4" stroke-linecap="butt"/>
<text x="407.0" y="34.8" font-size="8.3" text-anchor="end" font-weight="bold" font-style="normal" fill="#000" stroke="#000" stroke-width="0.3" transform="translate(407.0 34.8) rotate(0) scale(1 1.07) translate(-407.0 -34.8)">100</text>
<line x1="407.80" y1="112.45" x2="544.60" y2="112.45" stroke="#000" stroke-width="1.4" stroke-linecap="butt"/>
<line x1="411.00" y1="112.45" x2="411.00" y2="114.65" stroke="#000" stroke-width="1.4" stroke-linecap="butt"/>
<text x="411.0" y="124.8" font-size="8.3" text-anchor="middle" font-weight="bold" font-style="normal" fill="#000" stroke="#000" stroke-width="0.3" transform="translate(411.0 124.8) rotate(0) scale(1 1.07) translate(-411.0 -124.8)">0</text>
<line x1="436.88" y1="112.45" x2="436.88" y2="114.65" stroke="#000" stroke-width="1.4" stroke-linecap="butt"/>
<text x="436.88" y="124.8" font-size="8.3" text-anchor="middle" font-weight="bold" font-style="normal" fill="#000" stroke="#000" stroke-width="0.3" transform="translate(436.88 124.8) rotate(0) scale(1 1.07) translate(-436.88 -124.8)">6</text>
<line x1="462.76" y1="112.45" x2="462.76" y2="114.65" stroke="#000" stroke-width="1.4" stroke-linecap="butt"/>
<text x="462.76" y="124.8" font-size="8.3" text-anchor="middle" font-weight="bold" font-style="normal" fill="#000" stroke="#000" stroke-width="0.3" transform="translate(462.76 124.8) rotate(0) scale(1 1.07) translate(-462.76 -124.8)">12</text>
<line x1="488.64" y1="112.45" x2="488.64" y2="114.65" stroke="#000" stroke-width="1.4" stroke-linecap="butt"/>
<text x="488.64" y="124.8" font-size="8.3" text-anchor="middle" font-weight="bold" font-style="normal" fill="#000" stroke="#000" stroke-width="0.3" transform="translate(488.64 124.8) rotate(0) scale(1 1.07) translate(-488.64 -124.8)">18</text>
<line x1="514.52" y1="112.45" x2="514.52" y2="114.65" stroke="#000" stroke-width="1.4" stroke-linecap="butt"/>
<text x="514.52" y="124.8" font-size="8.3" text-anchor="middle" font-weight="bold" font-style="normal" fill="#000" stroke="#000" stroke-width="0.3" transform="translate(514.52 124.8) rotate(0) scale(1 1.07) translate(-514.52 -124.8)">24</text>
<line x1="540.40" y1="112.45" x2="540.40" y2="114.65" stroke="#000" stroke-width="1.4" stroke-linecap="butt"/>
<text x="540.4" y="124.8" font-size="8.3" text-anchor="middle" font-weight="bold" font-style="normal" fill="#000" stroke="#000" stroke-width="0.3" transform="translate(540.4 124.8) rotate(0) scale(1 1.07) translate(-540.4 -124.8)">30</text>
<text x="477.5" y="136.5" font-size="8.3" text-anchor="middle" font-weight="bold" font-style="normal" fill="#000" stroke="#000" stroke-width="0.3" transform="translate(477.5 136.5) rotate(0) scale(1 1.07) translate(-477.5 -136.5)">Age (weeks)</text>
<text x="392.1" y="62.25" font-size="8.42" text-anchor="middle" font-weight="bold" font-style="normal" fill="#000" stroke="#000" stroke-width="0.3" transform="translate(392.1 62.25) rotate(-90) scale(1 1.07) translate(-392.1 -62.25)">Diabetes free survival (%)</text>
<polyline points="411.70,31.80 488.60,31.80 488.60,44.50 496.70,44.50 496.70,48.70 506.40,48.70 506.40,55.90 510.10,55.90 510.10,61.80 514.30,61.80 514.30,66.80 518.20,66.80 518.20,68.60 531.10,68.60 531.10,75.30 540.40,75.30 540.40,79.50" fill="none" stroke="#0000ff" stroke-width="1.5" stroke-linejoin="round"/>
<polyline points="411.70,31.80 470.80,31.80 470.80,37.10 479.50,37.10 479.50,39.40 488.60,39.40 488.60,42.50 493.00,42.50 493.00,45.00 496.70,45.00 496.70,53.40 505.40,53.40 505.40,67.20 518.20,67.20 518.20,72.80 521.90,72.80 521.90,78.70 531.10,78.70 531.10,84.60 540.40,84.60 540.40,87.10" fill="none" stroke="#ff0000" stroke-width="1.5" stroke-linejoin="round"/>
<line x1="470.80" y1="34.90" x2="470.80" y2="37.70" stroke="#222" stroke-width="1.3" stroke-linecap="butt"/>
<line x1="479.50" y1="37.20" x2="479.50" y2="40.00" stroke="#222" stroke-width="1.3" stroke-linecap="butt"/>
<line x1="488.60" y1="40.30" x2="488.60" y2="43.10" stroke="#222" stroke-width="1.3" stroke-linecap="butt"/>
<line x1="493.00" y1="42.80" x2="493.00" y2="45.60" stroke="#222" stroke-width="1.3" stroke-linecap="butt"/>
<line x1="496.70" y1="51.20" x2="496.70" y2="54.00" stroke="#222" stroke-width="1.3" stroke-linecap="butt"/>
<line x1="505.40" y1="65.00" x2="505.40" y2="67.80" stroke="#222" stroke-width="1.3" stroke-linecap="butt"/>
<line x1="518.20" y1="70.60" x2="518.20" y2="73.40" stroke="#222" stroke-width="1.3" stroke-linecap="butt"/>
<line x1="521.90" y1="76.50" x2="521.90" y2="79.30" stroke="#222" stroke-width="1.3" stroke-linecap="butt"/>
<line x1="531.10" y1="82.40" x2="531.10" y2="85.20" stroke="#222" stroke-width="1.3" stroke-linecap="butt"/>
<line x1="540.40" y1="84.90" x2="540.40" y2="87.70" stroke="#222" stroke-width="1.3" stroke-linecap="butt"/>
<line x1="514.30" y1="64.60" x2="514.30" y2="67.40" stroke="#222" stroke-width="1.3" stroke-linecap="butt"/>
<line x1="518.20" y1="66.80" x2="518.20" y2="69.20" stroke="#222" stroke-width="1.3" stroke-linecap="butt"/>
<line x1="540.40" y1="77.30" x2="540.40" y2="80.10" stroke="#222" stroke-width="1.3" stroke-linecap="butt"/>
<line x1="422.90" y1="75.00" x2="433.20" y2="75.00" stroke="#0000ff" stroke-width="1.6" stroke-linecap="butt"/>
<line x1="428.00" y1="73.20" x2="428.00" y2="75.20" stroke="#1a1a1a" stroke-width="1.0" stroke-linecap="butt"/>
<line x1="422.90" y1="86.80" x2="433.20" y2="86.80" stroke="#ff0000" stroke-width="1.6" stroke-linecap="butt"/>
<line x1="428.00" y1="85.00" x2="428.00" y2="87.00" stroke="#1a1a1a" stroke-width="1.0" stroke-linecap="butt"/>
<text x="438.7" y="78.2" font-size="8.3" text-anchor="start" font-weight="bold" font-style="italic" fill="#000" stroke="#000" stroke-width="0.3" transform="translate(438.7 78.2) rotate(0) scale(1 1.07) translate(-438.7 -78.2)">Slc6a19 +/+</text>
<text x="438.7" y="90.0" font-size="8.3" text-anchor="start" font-weight="bold" font-style="italic" fill="#000" stroke="#000" stroke-width="0.3" transform="translate(438.7 90.0) rotate(0) scale(1 1.07) translate(-438.7 -90.0)">Slc6a19 -/-</text>
<circle cx="40.40" cy="166.00" r="2.2" fill="#0000ff"/>
<circle cx="40.40" cy="179.10" r="2.2" fill="#ff0000"/>
<text x="50.9" y="169.1" font-size="8.3" text-anchor="start" font-weight="bold" font-style="italic" fill="#000" stroke="#000" stroke-width="0.3" transform="translate(50.9 169.1) rotate(0) scale(1 1.07) translate(-50.9 -169.1)">Slc6a19 +/+</text>
<text x="50.9" y="182.7" font-size="8.3" text-anchor="start" font-weight="bold" font-style="italic" fill="#000" stroke="#000" stroke-width="0.3" transform="translate(50.9 182.7) rotate(0) scale(1 1.07) translate(-50.9 -182.7)">Slc6a19 -/-</text>
<text x="122.6" y="157.7" font-size="14" text-anchor="middle" font-weight="bold" font-style="normal" fill="#000" stroke="#000" stroke-width="0.3" transform="translate(122.6 157.7) rotate(0) scale(1 1.07) translate(-122.6 -157.7)">d</text>
<line x1="161.30" y1="161.10" x2="161.30" y2="250.40" stroke="#000" stroke-width="1.4" stroke-linecap="butt"/>
<line x1="158.10" y1="249.70" x2="161.30" y2="249.70" stroke="#000" stroke-width="1.4" stroke-linecap="butt"/>
<text x="156.3" y="252.29999999999998" font-size="8.3" text-anchor="end" font-weight="bold" font-style="normal" fill="#000" stroke="#000" stroke-width="0.3" transform="translate(156.3 252.29999999999998) rotate(0) scale(1 1.07) translate(-156.3 -252.29999999999998)">0</text>
<line x1="158.10" y1="231.98" x2="161.30" y2="231.98" stroke="#000" stroke-width="1.4" stroke-linecap="butt"/>
<text x="156.3" y="234.57999999999998" font-size="8.3" text-anchor="end" font-weight="bold" font-style="normal" fill="#000" stroke="#000" stroke-width="0.3" transform="translate(156.3 234.57999999999998) rotate(0) scale(1 1.07) translate(-156.3 -234.57999999999998)">5</text>
<line x1="158.10" y1="214.26" x2="161.30" y2="214.26" stroke="#000" stroke-width="1.4" stroke-linecap="butt"/>
<text x="156.3" y="216.85999999999999" font-size="8.3" text-anchor="end" font-weight="bold" font-style="normal" fill="#000" stroke="#000" stroke-width="0.3" transform="translate(156.3 216.85999999999999) rotate(0) scale(1 1.07) translate(-156.3 -216.85999999999999)">10</text>
<line x1="158.10" y1="196.54" x2="161.30" y2="196.54" stroke="#000" stroke-width="1.4" stroke-linecap="butt"/>
<text x="156.3" y="199.14" font-size="8.3" text-anchor="end" font-weight="bold" font-style="normal" fill="#000" stroke="#000" stroke-width="0.3" transform="translate(156.3 199.14) rotate(0) scale(1 1.07) translate(-156.3 -199.14)">15</text>
<line x1="158.10" y1="178.82" x2="161.30" y2="178.82" stroke="#000" stroke-width="1.4" stroke-linecap="butt"/>
<text x="156.3" y="181.42" font-size="8.3" text-anchor="end" font-weight="bold" font-style="normal" fill="#000" stroke="#000" stroke-width="0.3" transform="translate(156.3 181.42) rotate(0) scale(1 1.07) translate(-156.3 -181.42)">20</text>
<line x1="158.10" y1="161.10" x2="161.30" y2="161.10" stroke="#000" stroke-width="1.4" stroke-linecap="butt"/>
<text x="156.3" y="163.7" font-size="8.3" text-anchor="end" font-weight="bold" font-style="normal" fill="#000" stroke="#000" stroke-width="0.3" transform="translate(156.3 163.7) rotate(0) scale(1 1.07) translate(-156.3 -163.7)">25</text>
<line x1="157.40" y1="249.70" x2="250.80" y2="249.70" stroke="#000" stroke-width="1.4" stroke-linecap="butt"/>
<text x="141.0" y="203.7" font-size="8.3" text-anchor="middle" font-weight="bold" font-style="normal" fill="#000" stroke="#000" stroke-width="0.3" transform="translate(141.0 203.7) rotate(-90) scale(1 1.07) translate(-141.0 -203.7)">Islets/pancreas section</text>
<text x="183.6" y="257.2" font-size="8.6" text-anchor="end" font-weight="bold" font-style="normal" fill="#000" stroke="#000" stroke-width="0.3" transform="translate(183.6 257.2) rotate(-45) scale(1 1.07) translate(-183.6 -257.2)">Non-diabetic</text>
<text x="231.2" y="256.6" font-size="8.6" text-anchor="end" font-weight="bold" font-style="normal" fill="#000" stroke="#000" stroke-width="0.3" transform="translate(231.2 256.6) rotate(-45) scale(1 1.07) translate(-231.2 -256.6)">Diabetic</text>
<line x1="173.10" y1="203.30" x2="173.10" y2="235.40" stroke="#0000ff" stroke-width="1.5" stroke-linecap="butt"/>
<line x1="169.40" y1="203.30" x2="176.90" y2="203.30" stroke="#0000ff" stroke-width="1.5" stroke-linecap="butt"/>
<line x1="169.60" y1="235.40" x2="176.70" y2="235.40" stroke="#0000ff" stroke-width="1.5" stroke-linecap="butt"/>
<circle cx="170.50" cy="185.30" r="1.55" fill="#0000ff"/>
<circle cx="175.20" cy="185.30" r="1.55" fill="#0000ff"/>
<circle cx="173.00" cy="192.70" r="1.55" fill="#0000ff"/>
<circle cx="173.10" cy="203.30" r="1.55" fill="#0000ff"/>
<circle cx="173.10" cy="214.10" r="1.55" fill="#0000ff"/>
<circle cx="173.20" cy="218.00" r="1.55" fill="#0000ff"/>
<circle cx="170.70" cy="221.30" r="1.55" fill="#0000ff"/>
<circle cx="175.60" cy="221.30" r="1.55" fill="#0000ff"/>
<circle cx="168.50" cy="228.30" r="1.55" fill="#0000ff"/>
<circle cx="173.20" cy="228.30" r="1.55" fill="#0000ff"/>
<circle cx="177.80" cy="228.30" r="1.55" fill="#0000ff"/>
<circle cx="173.10" cy="242.50" r="1.55" fill="#0000ff"/>
<circle cx="170.90" cy="249.70" r="1.55" fill="#0000ff"/>
<circle cx="175.20" cy="249.70" r="1.55" fill="#0000ff"/>
<line x1="167.00" y1="221.30" x2="178.90" y2="221.30" stroke="#111" stroke-width="1.3" stroke-linecap="butt"/>
<line x1="190.80" y1="178.50" x2="190.80" y2="228.50" stroke="#ff0000" stroke-width="1.5" stroke-linecap="butt"/>
<line x1="187.00" y1="178.50" x2="194.60" y2="178.50" stroke="#ff0000" stroke-width="1.5" stroke-linecap="butt"/>
<line x1="187.00" y1="228.50" x2="194.40" y2="228.50" stroke="#ff0000" stroke-width="1.5" stroke-linecap="butt"/>
<line x1="186.10" y1="214.10" x2="195.40" y2="214.10" stroke="#333" stroke-width="1.3" stroke-linecap="butt"/>
<circle cx="186.20" cy="178.50" r="1.55" fill="#ff0000"/>
<circle cx="190.80" cy="178.50" r="1.55" fill="#ff0000"/>
<circle cx="195.60" cy="178.50" r="1.55" fill="#ff0000"/>
<circle cx="186.10" cy="214.10" r="1.55" fill="#ff0000"/>
<circle cx="195.40" cy="214.10" r="1.55" fill="#ff0000"/>
<circle cx="191.00" cy="221.30" r="1.55" fill="#ff0000"/>
<circle cx="191.00" cy="235.20" r="1.55" fill="#ff0000"/>
<circle cx="190.90" cy="246.10" r="1.55" fill="#ff0000"/>
<line x1="220.20" y1="224.80" x2="220.20" y2="238.70" stroke="#0000ff" stroke-width="1.5" stroke-linecap="butt"/>
<circle cx="217.70" cy="214.10" r="1.55" fill="#0000ff"/>
<circle cx="220.20" cy="214.10" r="1.55" fill="#0000ff"/>
<circle cx="222.60" cy="214.10" r="1.55" fill="#0000ff"/>
<circle cx="220.20" cy="217.80" r="1.55" fill="#0000ff"/>
<circle cx="218.10" cy="224.80" r="1.55" fill="#0000ff"/>
<circle cx="220.20" cy="224.80" r="1.55" fill="#0000ff"/>
<circle cx="222.20" cy="224.80" r="1.55" fill="#0000ff"/>
<circle cx="218.50" cy="227.30" r="1.55" fill="#0000ff"/>
<circle cx="221.90" cy="227.30" r="1.55" fill="#0000ff"/>
<circle cx="220.20" cy="228.40" r="1.55" fill="#0000ff"/>
<circle cx="216.60" cy="231.40" r="1.55" fill="#0000ff"/>
<circle cx="219.00" cy="231.40" r="1.55" fill="#0000ff"/>
<circle cx="221.40" cy="231.40" r="1.55" fill="#0000ff"/>
<circle cx="223.80" cy="231.40" r="1.55" fill="#0000ff"/>
<circle cx="216.80" cy="233.70" r="1.55" fill="#0000ff"/>
<circle cx="219.20" cy="233.70" r="1.55" fill="#0000ff"/>
<circle cx="221.20" cy="233.70" r="1.55" fill="#0000ff"/>
<circle cx="223.60" cy="233.70" r="1.55" fill="#0000ff"/>
<circle cx="216.30" cy="235.80" r="1.55" fill="#0000ff"/>
<circle cx="218.60" cy="235.80" r="1.55" fill="#0000ff"/>
<circle cx="220.90" cy="235.80" r="1.55" fill="#0000ff"/>
<circle cx="223.30" cy="235.80" r="1.55" fill="#0000ff"/>
<circle cx="217.60" cy="238.70" r="1.55" fill="#0000ff"/>
<circle cx="220.20" cy="238.70" r="1.55" fill="#0000ff"/>
<circle cx="222.80" cy="238.70" r="1.55" fill="#0000ff"/>
<circle cx="220.20" cy="245.60" r="1.55" fill="#0000ff"/>
<circle cx="220.20" cy="249.70" r="1.55" fill="#0000ff"/>
<line x1="214.80" y1="231.60" x2="226.70" y2="231.60" stroke="#333" stroke-width="1.3" stroke-linecap="butt"/>
<line x1="238.20" y1="228.40" x2="238.20" y2="240.70" stroke="#ff0000" stroke-width="1.5" stroke-linecap="butt"/>
<line x1="235.40" y1="240.70" x2="241.30" y2="240.70" stroke="#ff0000" stroke-width="1.5" stroke-linecap="butt"/>
<line x1="233.30" y1="231.70" x2="243.20" y2="231.70" stroke="#ff0000" stroke-width="1.5" stroke-linecap="butt"/>
<circle cx="238.20" cy="217.80" r="1.55" fill="#ff0000"/>
<circle cx="238.20" cy="227.70" r="1.55" fill="#ff0000"/>
<circle cx="236.60" cy="229.20" r="1.55" fill="#ff0000"/>
<circle cx="239.80" cy="229.20" r="1.55" fill="#ff0000"/>
<circle cx="235.20" cy="230.40" r="1.55" fill="#ff0000"/>
<circle cx="241.20" cy="230.40" r="1.55" fill="#ff0000"/>
<circle cx="234.00" cy="231.70" r="1.55" fill="#ff0000"/>
<circle cx="236.60" cy="231.70" r="1.55" fill="#ff0000"/>
<circle cx="239.80" cy="231.70" r="1.55" fill="#ff0000"/>
<circle cx="242.50" cy="231.70" r="1.55" fill="#ff0000"/>
<circle cx="238.20" cy="233.50" r="1.55" fill="#ff0000"/>
<circle cx="238.20" cy="235.80" r="1.55" fill="#ff0000"/>
<circle cx="236.30" cy="240.70" r="1.55" fill="#ff0000"/>
<circle cx="240.10" cy="240.70" r="1.55" fill="#ff0000"/>
<circle cx="238.20" cy="242.60" r="1.55" fill="#ff0000"/>
<circle cx="238.20" cy="245.60" r="1.55" fill="#ff0000"/>
<text x="273.6" y="157.7" font-size="14" text-anchor="middle" font-weight="bold" font-style="normal" fill="#000" stroke="#000" stroke-width="0.3" transform="translate(273.6 157.7) rotate(0) scale(1 1.07) translate(-273.6 -157.7)">e</text>
<line x1="323.00" y1="161.20" x2="323.00" y2="250.00" stroke="#000" stroke-width="1.4" stroke-linecap="butt"/>
<line x1="319.80" y1="249.30" x2="323.00" y2="249.30" stroke="#000" stroke-width="1.4" stroke-linecap="butt"/>
<text x="318.0" y="252.4" font-size="8.3" text-anchor="end" font-weight="bold" font-style="normal" fill="#000" stroke="#000" stroke-width="0.3" transform="translate(318.0 252.4) rotate(0) scale(1 1.07) translate(-318.0 -252.4)">0%</text>
<line x1="319.80" y1="231.68" x2="323.00" y2="231.68" stroke="#000" stroke-width="1.4" stroke-linecap="butt"/>
<text x="318.0" y="234.78" font-size="8.3" text-anchor="end" font-weight="bold" font-style="normal" fill="#000" stroke="#000" stroke-width="0.3" transform="translate(318.0 234.78) rotate(0) scale(1 1.07) translate(-318.0 -234.78)">20%</text>
<line x1="319.80" y1="214.06" x2="323.00" y2="214.06" stroke="#000" stroke-width="1.4" stroke-linecap="butt"/>
<text x="318.0" y="217.16" font-size="8.3" text-anchor="end" font-weight="bold" font-style="normal" fill="#000" stroke="#000" stroke-width="0.3" transform="translate(318.0 217.16) rotate(0) scale(1 1.07) translate(-318.0 -217.16)">40%</text>
<line x1="319.80" y1="196.44" x2="323.00" y2="196.44" stroke="#000" stroke-width="1.4" stroke-linecap="butt"/>
<text x="318.0" y="199.54" font-size="8.3" text-anchor="end" font-weight="bold" font-style="normal" fill="#000" stroke="#000" stroke-width="0.3" transform="translate(318.0 199.54) rotate(0) scale(1 1.07) translate(-318.0 -199.54)">60%</text>
<line x1="319.80" y1="178.82" x2="323.00" y2="178.82" stroke="#000" stroke-width="1.4" stroke-linecap="butt"/>
<text x="318.0" y="181.92" font-size="8.3" text-anchor="end" font-weight="bold" font-style="normal" fill="#000" stroke="#000" stroke-width="0.3" transform="translate(318.0 181.92) rotate(0) scale(1 1.07) translate(-318.0 -181.92)">80%</text>
<line x1="319.80" y1="161.20" x2="323.00" y2="161.20" stroke="#000" stroke-width="1.4" stroke-linecap="butt"/>
<text x="318.0" y="164.29999999999998" font-size="8.3" text-anchor="end" font-weight="bold" font-style="normal" fill="#000" stroke="#000" stroke-width="0.3" transform="translate(318.0 164.29999999999998) rotate(0) scale(1 1.07) translate(-318.0 -164.29999999999998)">100%</text>
<line x1="319.10" y1="249.30" x2="451.00" y2="249.30" stroke="#000" stroke-width="1.4" stroke-linecap="butt"/>
<line x1="355.90" y1="249.30" x2="355.90" y2="251.50" stroke="#000" stroke-width="1.4" stroke-linecap="butt"/>
<line x1="422.50" y1="249.30" x2="422.50" y2="251.50" stroke="#000" stroke-width="1.4" stroke-linecap="butt"/>
<text x="294.9" y="200.85" font-size="8.3" text-anchor="middle" font-weight="bold" font-style="normal" fill="#000" stroke="#000" stroke-width="0.3" transform="translate(294.9 200.85) rotate(-90) scale(1 1.07) translate(-294.9 -200.85)">% of Islets per Score</text>
<defs>
<pattern id="pb" width="3.2" height="3.2" patternUnits="userSpaceOnUse"><rect width="3.2" height="3.2" fill="#3434f4"/><rect width="1.6" height="1.6" fill="#5c5cff"/><rect x="1.6" y="1.6" width="1.6" height="1.6" fill="#5c5cff"/></pattern>
<pattern id="py" width="3.7" height="3.7" patternUnits="userSpaceOnUse"><rect width="3.7" height="3.7" fill="#fff200"/><rect width="1.85" height="1.85" fill="#ffffd8"/><rect x="1.85" y="1.85" width="1.85" height="1.85" fill="#ffffd8"/></pattern>
<pattern id="po1" width="4" height="2.2" patternUnits="userSpaceOnUse"><rect width="4" height="2.2" fill="#f7a04a"/><rect y="1.4" width="4" height="0.8" fill="#fbc080"/></pattern>
<pattern id="pr1" width="2.6" height="4" patternUnits="userSpaceOnUse"><rect width="2.6" height="4" fill="#f26670"/><rect x="1.6" width="1" height="4" fill="#fb9ea6"/></pattern>
<pattern id="po2" width="4" height="2.2" patternUnits="userSpaceOnUse"><rect width="4" height="2.2" fill="#fdd0a0"/><rect y="1.3" width="4" height="0.9" fill="#f8ae6c"/></pattern>
<pattern id="pr2" width="2.6" height="4" patternUnits="userSpaceOnUse"><rect width="2.6" height="4" fill="#ffadb5"/><rect x="1.5" width="0.6" height="4" fill="#ffe2e6"/><rect x="0.3" width="0.5" height="4" fill="#ff8a94"/></pattern>
</defs>
<rect x="334.0" y="229.30" width="43.39999999999998" height="20.00" fill="url(#pb)"/>
<rect x="334.0" y="210.80" width="43.39999999999998" height="18.50" fill="#00b400"/>
<rect x="334.0" y="201.50" width="43.39999999999998" height="9.30" fill="url(#py)"/>
<rect x="334.0" y="176.90" width="43.39999999999998" height="24.60" fill="url(#po1)"/>
<rect x="334.0" y="161.40" width="43.39999999999998" height="15.50" fill="url(#pr1)"/>
<line x1="334.00" y1="229.30" x2="377.40" y2="229.30" stroke="#000" stroke-width="1.4" stroke-linecap="butt"/>
<line x1="334.00" y1="210.80" x2="377.40" y2="210.80" stroke="#000" stroke-width="1.4" stroke-linecap="butt"/>
<line x1="334.00" y1="201.50" x2="377.40" y2="201.50" stroke="#000" stroke-width="1.4" stroke-linecap="butt"/>
<line x1="334.00" y1="176.90" x2="377.40" y2="176.90" stroke="#000" stroke-width="1.4" stroke-linecap="butt"/>
<rect x="334.0" y="161.40" width="43.39999999999998" height="87.90" fill="none" stroke="#000" stroke-width="1.4"/>
<rect x="400.9" y="226.90" width="43.30000000000001" height="22.40" fill="url(#pb)"/>
<rect x="400.9" y="211.00" width="43.30000000000001" height="15.90" fill="#00b400"/>
<rect x="400.9" y="203.80" width="43.30000000000001" height="7.20" fill="url(#py)"/>
<rect x="400.9" y="183.80" width="43.30000000000001" height="20.00" fill="url(#po2)"/>
<rect x="400.9" y="161.40" width="43.30000000000001" height="22.40" fill="url(#pr2)"/>
<line x1="400.90" y1="226.90" x2="444.20" y2="226.90" stroke="#000" stroke-width="1.4" stroke-linecap="butt"/>
<line x1="400.90" y1="211.00" x2="444.20" y2="211.00" stroke="#000" stroke-width="1.4" stroke-linecap="butt"/>
<line x1="400.90" y1="203.80" x2="444.20" y2="203.80" stroke="#000" stroke-width="1.4" stroke-linecap="butt"/>
<line x1="400.90" y1="183.80" x2="444.20" y2="183.80" stroke="#000" stroke-width="1.4" stroke-linecap="butt"/>
<rect x="400.9" y="161.40" width="43.30000000000001" height="87.90" fill="none" stroke="#000" stroke-width="1.4"/>
<text x="357.6" y="258.6" font-size="8.6" text-anchor="end" font-weight="bold" font-style="italic" fill="#000" stroke="#000" stroke-width="0.3" transform="translate(357.6 258.6) rotate(-45) scale(1 1.07) translate(-357.6 -258.6)">Scl6a19+/+</text>
<text x="424.9" y="259.7" font-size="8.6" text-anchor="end" font-weight="bold" font-style="italic" fill="#000" stroke="#000" stroke-width="0.3" transform="translate(424.9 259.7) rotate(-45) scale(1 1.07) translate(-424.9 -259.7)">Scl6a19-/-</text>
<rect x="468.6" y="164.90" width="9.6" height="7.6" fill="url(#pb)" stroke="#000" stroke-width="1.3"/>
<text x="483.8" y="172.20000000000002" font-size="9.3" text-anchor="start" font-weight="normal" font-style="normal" fill="#000" stroke="#000" stroke-width="0.12" transform="translate(483.8 172.20000000000002) rotate(0) scale(1 1.07) translate(-483.8 -172.20000000000002)">Score 0</text>
<rect x="468.6" y="178.90" width="9.6" height="7.6" fill="#00b400" stroke="#000" stroke-width="1.3"/>
<text x="483.8" y="186.20000000000002" font-size="9.3" text-anchor="start" font-weight="normal" font-style="normal" fill="#000" stroke="#000" stroke-width="0.12" transform="translate(483.8 186.20000000000002) rotate(0) scale(1 1.07) translate(-483.8 -186.20000000000002)">Score 1</text>
<rect x="468.6" y="192.90" width="9.6" height="7.6" fill="url(#py)" stroke="#000" stroke-width="1.3"/>
<text x="483.8" y="200.20000000000002" font-size="9.3" text-anchor="start" font-weight="normal" font-style="normal" fill="#000" stroke="#000" stroke-width="0.12" transform="translate(483.8 200.20000000000002) rotate(0) scale(1 1.07) translate(-483.8 -200.20000000000002)">Score 2</text>
<rect x="468.6" y="206.90" width="9.6" height="7.6" fill="#f7a24e" stroke="#000" stroke-width="1.3"/>
<text x="483.8" y="214.20000000000002" font-size="9.3" text-anchor="start" font-weight="normal" font-style="normal" fill="#000" stroke="#000" stroke-width="0.12" transform="translate(483.8 214.20000000000002) rotate(0) scale(1 1.07) translate(-483.8 -214.20000000000002)">Score 3</text>
<rect x="468.6" y="220.90" width="9.6" height="7.6" fill="url(#pr1)" stroke="#000" stroke-width="1.3"/>
<text x="483.8" y="228.20000000000002" font-size="9.3" text-anchor="start" font-weight="normal" font-style="normal" fill="#000" stroke="#000" stroke-width="0.12" transform="translate(483.8 228.20000000000002) rotate(0) scale(1 1.07) translate(-483.8 -228.20000000000002)">Score 4</text>
</svg></body></html>
